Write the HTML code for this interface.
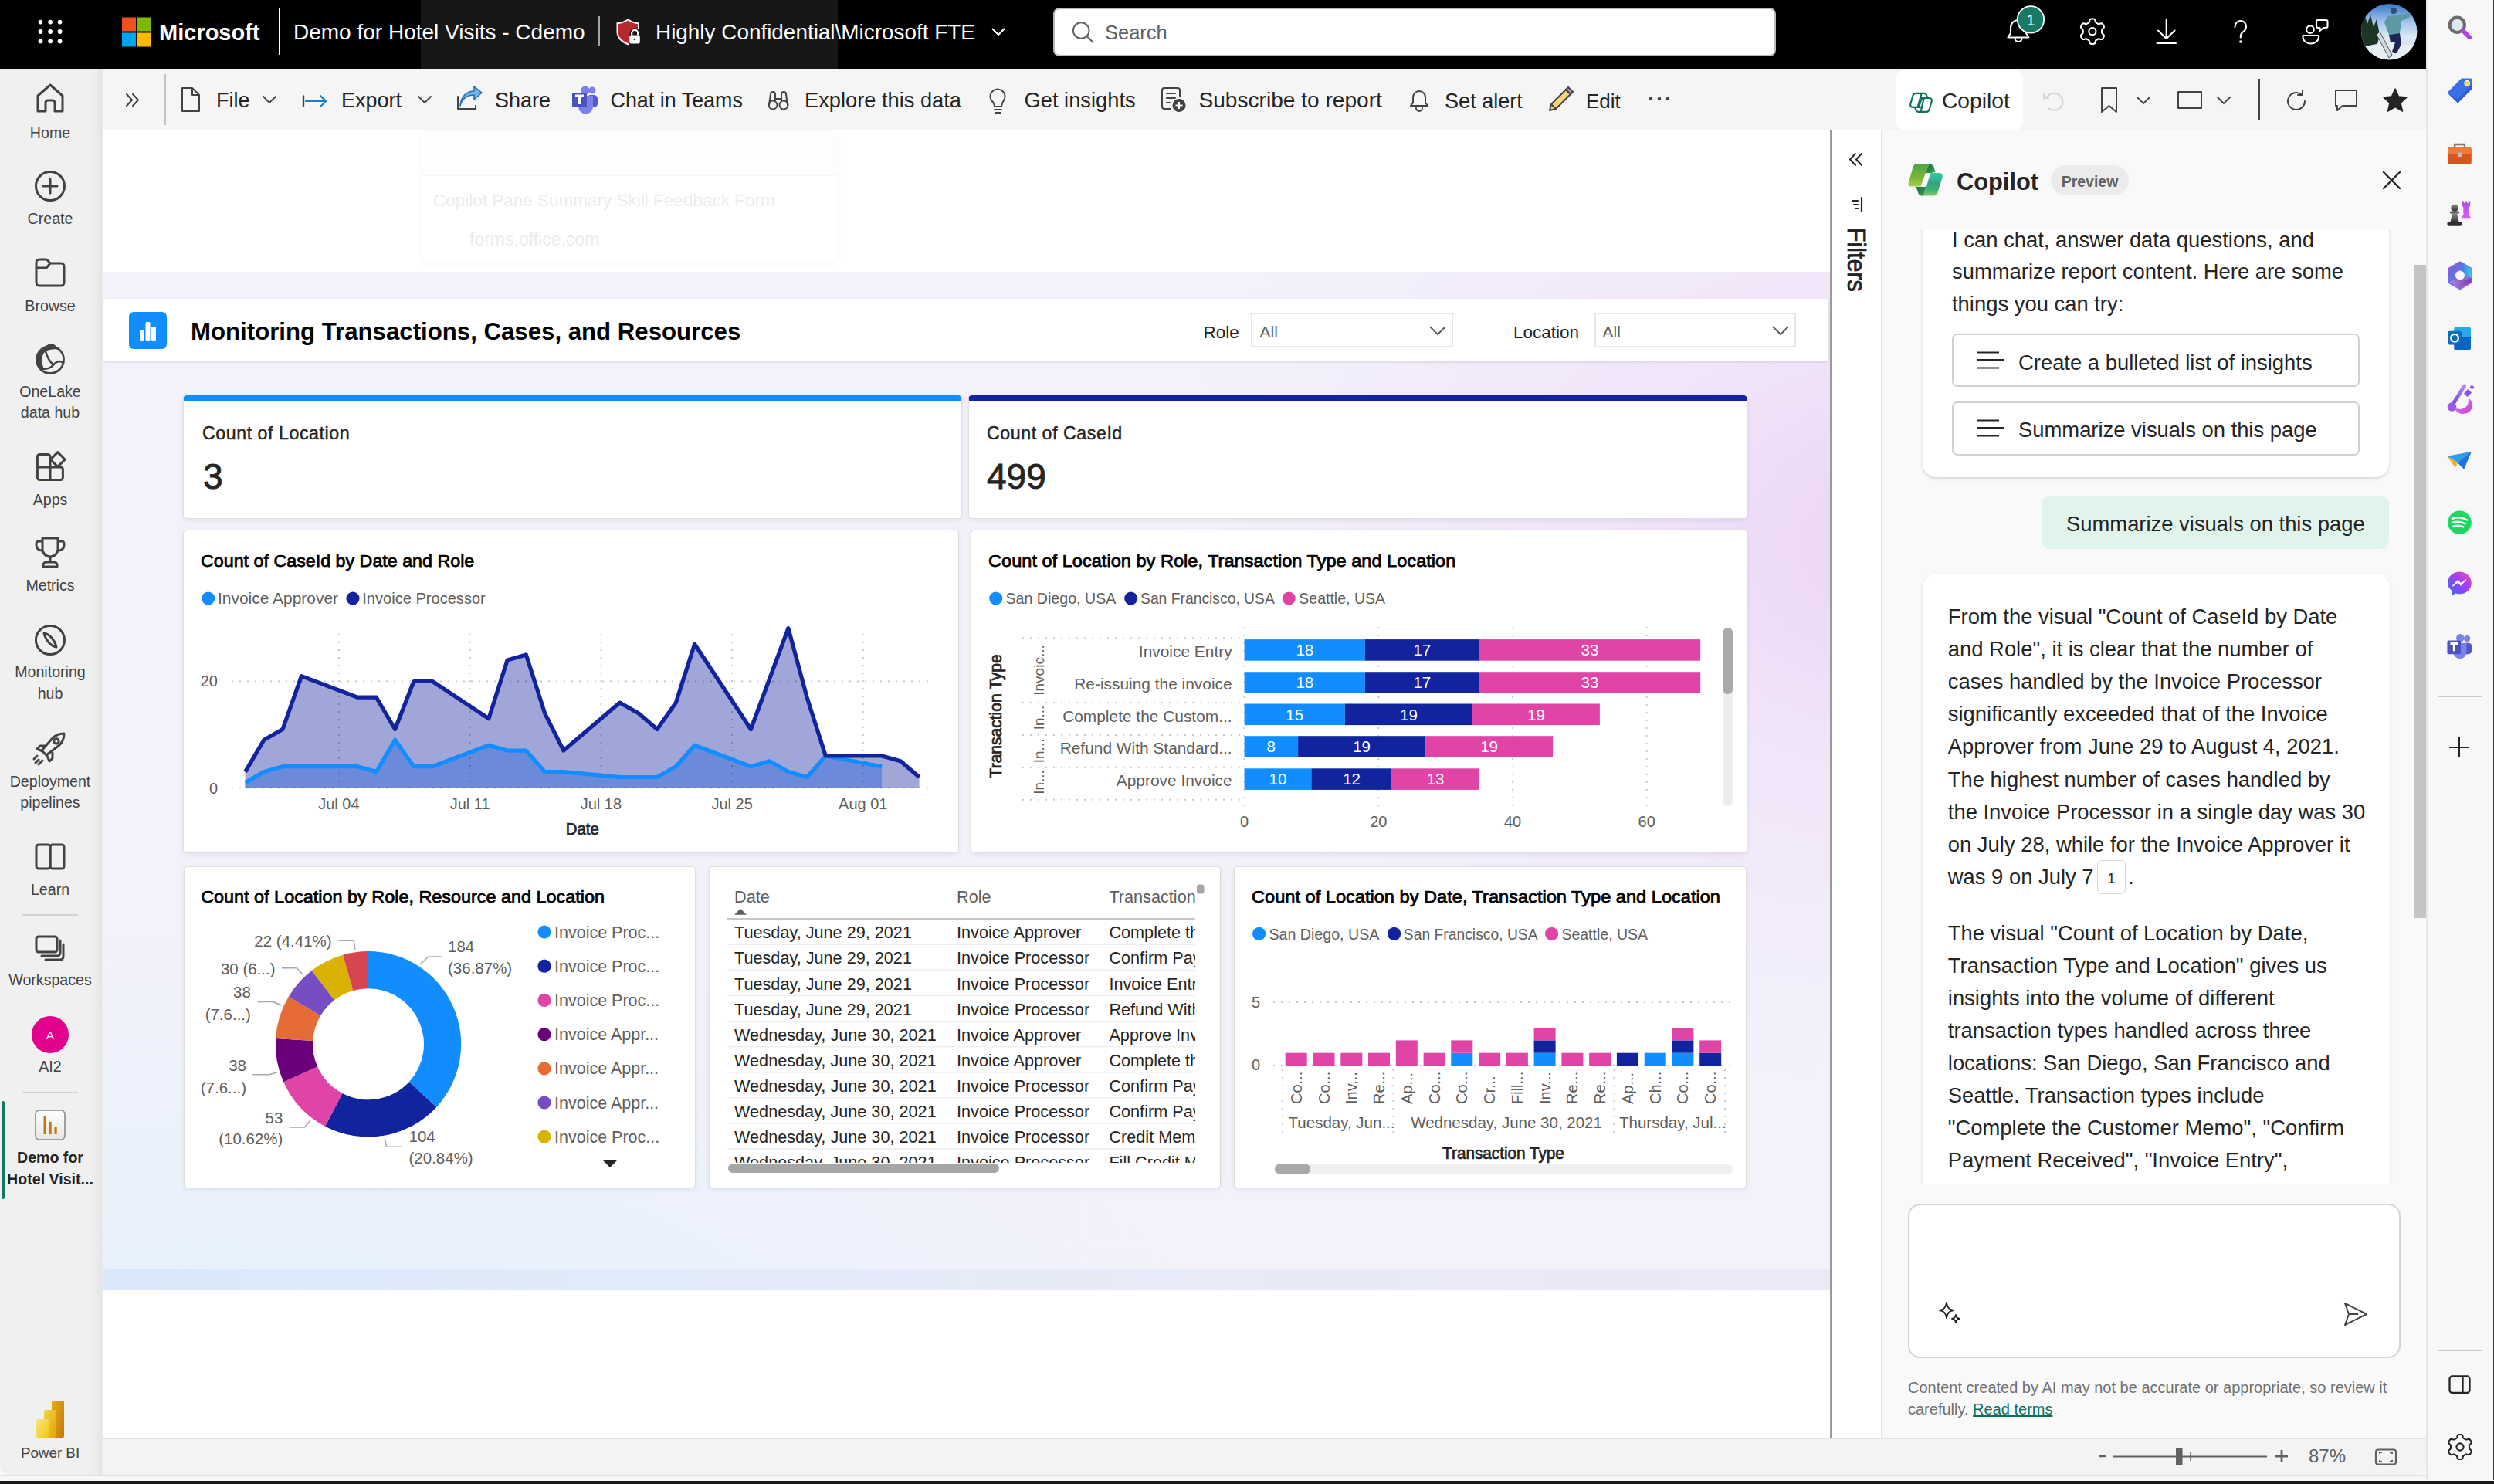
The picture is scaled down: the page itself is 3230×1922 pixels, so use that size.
<!DOCTYPE html>
<html><head><meta charset="utf-8"><title>Power BI - Demo for Hotel Visits</title>
<style>
html,body{margin:0;padding:0;width:3230px;height:1922px;overflow:hidden;background:#f7f7f7;font-family:"Liberation Sans", sans-serif;}
.t{position:absolute;line-height:1;white-space:nowrap;}
.r{position:absolute;box-sizing:border-box;}
svg{position:absolute;overflow:visible;}
</style></head><body>
<div class="r" style="left:0.0px;top:0.0px;width:3142.0px;height:89.0px;background:#000;"></div><div class="r" style="left:132.0px;top:89.0px;width:3010.0px;height:80.0px;background:#f5f5f5;"></div><div class="r" style="left:0.0px;top:89.0px;width:132.0px;height:1821.0px;background:#f0f0f0;border-bottom-left-radius:12px;"></div><div class="r" style="left:118.0px;top:89.0px;width:15.0px;height:1821.0px;background:linear-gradient(90deg,rgba(0,0,0,0),rgba(0,0,0,0.05));border-bottom-right-radius:0;"></div><div class="r" style="left:134.0px;top:169.0px;width:2236.0px;height:1693.0px;background:#fff;"></div><div class="r" style="left:134.0px;top:1862.0px;width:3008.0px;height:48.0px;background:#f3f3f3;border-top:2px solid #e3e3e3;border-bottom-right-radius:14px;"></div><div class="r" style="left:0.0px;top:1910.0px;width:3230.0px;height:7.5px;background:#f7f7f7;border-top:1px solid #e0e0e0;"></div><div class="r" style="left:0.0px;top:1917.5px;width:3230.0px;height:4.5px;background:#1b1b1b;"></div><div class="r" style="left:3142.0px;top:0.0px;width:88.0px;height:1917.0px;background:#f7f7f7;border-left:2px solid #e6e6e6;"></div><div class="r" style="left:3228.5px;top:0.0px;width:1.5px;height:1917.0px;background:#3a3a3a;"></div><svg style="left:0;top:0" width="100" height="89"><circle cx="52.5" cy="28.6" r="2.9" fill="#fff"/><circle cx="52.5" cy="41" r="2.9" fill="#fff"/><circle cx="52.5" cy="53.4" r="2.9" fill="#fff"/><circle cx="65.1" cy="28.6" r="2.9" fill="#fff"/><circle cx="65.1" cy="41" r="2.9" fill="#fff"/><circle cx="65.1" cy="53.4" r="2.9" fill="#fff"/><circle cx="77.6" cy="28.6" r="2.9" fill="#fff"/><circle cx="77.6" cy="41" r="2.9" fill="#fff"/><circle cx="77.6" cy="53.4" r="2.9" fill="#fff"/></svg><svg style="left:158px;top:22px" width="40" height="40"><rect x="0" y="0.5" width="18" height="18" fill="#f25022"/><rect x="20" y="0.5" width="18" height="18" fill="#7fba00"/><rect x="0" y="20.5" width="18" height="18" fill="#00a4ef"/><rect x="20" y="20.5" width="18" height="18" fill="#ffb900"/></svg><div class="t " style="left:206.0px;top:28.0px;font-size:29px;color:#fff;font-weight:700;">Microsoft</div><div class="r" style="left:361.0px;top:11.0px;width:2.0px;height:60.0px;background:#fff;"></div><div class="t " style="left:380.0px;top:28.3px;font-size:28px;color:#fff;">Demo for Hotel Visits - Cdemo</div><div class="r" style="left:775.0px;top:21.0px;width:2.0px;height:39.0px;background:#9a9a9a;"></div><svg style="left:796px;top:22px" width="40" height="40"><path d="M17.2 3.5 C12.5 6.5 8 8 3.5 8.3 V19 C3.5 27 9 32 17.2 35.3 C25 32 31 27 31 19 V8.3 C26.5 8 22 6.5 17.2 3.5Z" fill="#b0141a" stroke="#fff" stroke-width="2"/><path d="M22.2 23.5 V20.8 a4 4 0 0 1 8 0 V23.5" fill="none" stroke="#000" stroke-width="5"/><rect x="18" y="22.3" width="16" height="13.5" rx="2.5" fill="#000"/><rect x="23.4" y="18.5" width="5.6" height="5" fill="#000"/><path d="M22.2 23.5 V20.8 a4 4 0 0 1 8 0 V23.5" fill="none" stroke="#fff" stroke-width="2.2"/><rect x="19.2" y="23.5" width="13.6" height="11" rx="2" fill="#fff"/><circle cx="26" cy="29" r="1.3" fill="#000"/></svg><div class="t " style="left:849.0px;top:28.4px;font-size:27.9px;color:#fff;">Highly Confidential\Microsoft FTE</div><svg style="left:1283px;top:34px" width="22" height="16"><path d="M2 3 L10 11 L18 3" fill="none" stroke="#fff" stroke-width="2.2"/></svg><div class="r" style="left:1363.5px;top:9.5px;width:936.0px;height:63.0px;background:#fff;border:2px solid #b9b9b9;border-radius:8px;"></div><svg style="left:1385px;top:24px" width="40" height="40"><circle cx="15.2" cy="15.5" r="10.3" fill="none" stroke="#616161" stroke-width="2"/><path d="M22.6 23 L31 31.3" stroke="#616161" stroke-width="2.2" stroke-linecap="butt"/></svg><div class="t " style="left:1431.0px;top:30.4px;font-size:25.5px;color:#616161;">Search</div><div class="r" style="left:545.0px;top:0.0px;width:540.0px;height:89.0px;background:rgba(255,255,255,0.09);"></div><svg style="left:2580px;top:0" width="560" height="89"><path d="M20.5 48.5 H47.5 L44 43 V36 C44 30 39.5 26 34 26 C28.5 26 24 30 24 36 V43 Z M29.5 49.5 a4.5 4.5 0 0 0 9 0" fill="none" stroke="#fff" stroke-width="2.1" stroke-linecap="round" stroke-linejoin="round"/><circle cx="50" cy="25.4" r="17.2" fill="#177a66" stroke="#fff" stroke-width="1.8"/><path d="M129.90 24.40 L130.33 24.41 L130.75 24.43 L131.18 24.48 L131.60 24.55 L132.01 24.67 L132.41 24.84 L132.79 25.12 L133.12 25.55 L133.39 26.17 L133.59 26.94 L133.75 27.70 L133.92 28.33 L134.12 28.77 L134.36 29.08 L134.62 29.31 L134.89 29.50 L135.17 29.66 L135.44 29.82 L135.72 29.98 L136.00 30.13 L136.28 30.30 L136.55 30.46 L136.83 30.62 L137.11 30.78 L137.40 30.92 L137.73 31.03 L138.12 31.08 L138.60 31.03 L139.23 30.87 L139.98 30.62 L140.74 30.41 L141.41 30.33 L141.95 30.41 L142.38 30.60 L142.73 30.86 L143.03 31.16 L143.31 31.48 L143.56 31.83 L143.80 32.18 L144.02 32.55 L144.22 32.92 L144.41 33.31 L144.58 33.70 L144.73 34.10 L144.84 34.51 L144.89 34.95 L144.84 35.41 L144.63 35.91 L144.23 36.46 L143.66 37.01 L143.08 37.54 L142.62 38.00 L142.34 38.39 L142.19 38.75 L142.12 39.09 L142.10 39.42 L142.09 39.74 L142.10 40.06 L142.10 40.38 L142.10 40.70 L142.10 41.02 L142.10 41.34 L142.09 41.66 L142.10 41.98 L142.12 42.31 L142.19 42.65 L142.34 43.01 L142.62 43.40 L143.08 43.86 L143.66 44.39 L144.23 44.94 L144.63 45.49 L144.84 45.99 L144.89 46.45 L144.84 46.89 L144.73 47.30 L144.58 47.70 L144.41 48.09 L144.22 48.48 L144.02 48.85 L143.80 49.22 L143.56 49.57 L143.31 49.92 L143.03 50.24 L142.73 50.54 L142.38 50.80 L141.95 50.99 L141.41 51.07 L140.74 50.99 L139.98 50.78 L139.23 50.53 L138.60 50.37 L138.12 50.32 L137.73 50.37 L137.40 50.48 L137.11 50.62 L136.83 50.78 L136.55 50.94 L136.28 51.10 L136.00 51.27 L135.72 51.42 L135.44 51.58 L135.17 51.74 L134.89 51.90 L134.62 52.09 L134.36 52.32 L134.12 52.63 L133.92 53.07 L133.75 53.70 L133.59 54.46 L133.39 55.23 L133.12 55.85 L132.79 56.28 L132.41 56.56 L132.01 56.73 L131.60 56.85 L131.18 56.92 L130.75 56.97 L130.33 56.99 L129.90 57.00 L129.47 56.99 L129.05 56.97 L128.62 56.92 L128.20 56.85 L127.79 56.73 L127.39 56.56 L127.01 56.28 L126.68 55.85 L126.41 55.23 L126.21 54.46 L126.05 53.70 L125.88 53.07 L125.68 52.63 L125.44 52.32 L125.18 52.09 L124.91 51.90 L124.63 51.74 L124.36 51.58 L124.08 51.42 L123.80 51.27 L123.52 51.10 L123.25 50.94 L122.97 50.78 L122.69 50.62 L122.40 50.48 L122.07 50.37 L121.68 50.32 L121.20 50.37 L120.57 50.53 L119.82 50.78 L119.06 50.99 L118.39 51.07 L117.85 50.99 L117.42 50.80 L117.07 50.54 L116.77 50.24 L116.49 49.92 L116.24 49.57 L116.00 49.22 L115.78 48.85 L115.58 48.48 L115.39 48.09 L115.22 47.70 L115.07 47.30 L114.96 46.89 L114.91 46.45 L114.96 45.99 L115.17 45.49 L115.57 44.94 L116.14 44.39 L116.72 43.86 L117.18 43.40 L117.46 43.01 L117.61 42.65 L117.68 42.31 L117.70 41.98 L117.71 41.66 L117.70 41.34 L117.70 41.02 L117.70 40.70 L117.70 40.38 L117.70 40.06 L117.71 39.74 L117.70 39.42 L117.68 39.09 L117.61 38.75 L117.46 38.39 L117.18 38.00 L116.72 37.54 L116.14 37.01 L115.57 36.46 L115.17 35.91 L114.96 35.41 L114.91 34.95 L114.96 34.51 L115.07 34.10 L115.22 33.70 L115.39 33.31 L115.58 32.92 L115.78 32.55 L116.00 32.18 L116.24 31.83 L116.49 31.48 L116.77 31.16 L117.07 30.86 L117.42 30.60 L117.85 30.41 L118.39 30.33 L119.06 30.41 L119.82 30.62 L120.57 30.87 L121.20 31.03 L121.68 31.08 L122.07 31.03 L122.40 30.92 L122.69 30.78 L122.97 30.62 L123.25 30.46 L123.52 30.30 L123.80 30.13 L124.08 29.98 L124.36 29.82 L124.63 29.66 L124.91 29.50 L125.18 29.31 L125.44 29.08 L125.68 28.77 L125.88 28.33 L126.05 27.70 L126.21 26.94 L126.41 26.17 L126.68 25.55 L127.01 25.12 L127.39 24.84 L127.79 24.67 L128.20 24.55 L128.62 24.48 L129.05 24.43 L129.47 24.41 L129.90 24.40Z" fill="none" stroke="#fff" stroke-width="2.1" stroke-linecap="round" stroke-linejoin="round"/><circle cx="129.9" cy="40.7" r="4.6" fill="none" stroke="#fff" stroke-width="2.1" stroke-linecap="round" stroke-linejoin="round"/><path d="M225.7 25.5 V50 M215 39.5 L225.7 50 L236.5 39.5 M213.5 56 H238" fill="none" stroke="#fff" stroke-width="2.1" stroke-linecap="round" stroke-linejoin="round"/><path d="M314.5 35 C314.5 30 318 27 321.8 27 C325.8 27 329 30 329 34.5 C329 38 327 40 324.8 41.5 C322.6 43 321.8 44.5 321.8 47 V48.5" fill="none" stroke="#fff" stroke-width="2.1" stroke-linecap="round" stroke-linejoin="round"/><circle cx="321.8" cy="54" r="1.7" fill="#fff"/><circle cx="412" cy="38.2" r="4.8" fill="none" stroke="#fff" stroke-width="2.1" stroke-linecap="round" stroke-linejoin="round"/><path d="M402.5 46 H423 V48 a10.25 8.5 0 0 1 -20.5 0 Z" fill="none" stroke="#fff" stroke-width="2.1" stroke-linecap="round" stroke-linejoin="round"/><path d="M422 26 H432.5 a2 2 0 0 1 2 2 V34 a2 2 0 0 1 -2 2 H429 L424.5 40 V36 H422 a2 2 0 0 1 -2 -2 V28 a2 2 0 0 1 2 -2 Z" fill="none" stroke="#fff" stroke-width="2.1" stroke-linecap="round" stroke-linejoin="round"/></svg><div class="t " style="left:2630.0px;transform:translateX(-50%);top:16.4px;font-size:20px;color:#fff;">1</div><svg style="left:3057.8px;top:4.8px" width="72.4" height="72.4"><defs><linearGradient id="av" x1="0" y1="0" x2="0" y2="1"><stop offset="0" stop-color="#3a78c8"/><stop offset="0.35" stop-color="#a9c9ee"/><stop offset="0.6" stop-color="#dfe9f5"/><stop offset="1" stop-color="#c9d7e6"/></linearGradient><clipPath id="avc"><circle cx="36.2" cy="36.2" r="36.2"/></clipPath></defs><circle cx="36.2" cy="36.2" r="36.2" fill="url(#av)"/><g clip-path="url(#avc)"><path d="M0 24 L5 16 L8 26 L12 14 L16 30 L20 20 L24 40 L20 56 L0 58Z" fill="#1c3526"/><path d="M0 56 L30 50 L72 54 V72 H0Z" fill="#e8eef6"/><circle cx="42" cy="9" r="4" fill="#2b4f7a"/><path d="M34 16 L50 14 L62 12 L64 16 L52 22 L50 38 L36 40 L30 24Z" fill="#5a9aa0"/><path d="M36 40 L50 38 L52 52 L46 64 L40 62 L44 50 L38 50Z" fill="#1d2456"/><path d="M24 36 L40 66 L36 70 L20 40Z" fill="#cfd8e2" stroke="#555" stroke-width="1"/></g></svg><svg style="left:160px;top:118px" width="26" height="24"><path d="M4 4 L11 11.5 L4 19 M12 4 L19 11.5 L12 19" fill="none" stroke="#424242" stroke-width="2" stroke-linecap="round" stroke-linejoin="round"/></svg><div class="r" style="left:213.0px;top:95.5px;width:2.0px;height:66.5px;background:#c2c2c2;"></div><svg style="left:233px;top:112px" width="30" height="36"><path d="M3 2 H16 L25 11 V32 H3 Z M16 2 V11 H25" fill="none" stroke="#424242" stroke-width="2" stroke-linecap="round" stroke-linejoin="round"/></svg><div class="t " style="left:280.0px;top:116.6px;font-size:27px;color:#242424;">File</div><svg style="left:339px;top:122px" width="20" height="14"><path d="M2 3 L10 11 L18 3" fill="none" stroke="#424242" stroke-width="1.8" stroke-linecap="round"/></svg><svg style="left:391px;top:121px" width="36" height="20"><path d="M2 3 V17 M5 10 H31 M24 3 L31 10 L24 17" fill="none" stroke="#1a7ec7" stroke-width="2.2" stroke-linecap="round"/><path d="M2 3 V17" stroke="#424242" stroke-width="2.2"/></svg><div class="t " style="left:442.0px;top:116.6px;font-size:27px;color:#242424;">Export</div><svg style="left:540px;top:122px" width="20" height="14"><path d="M2 3 L10 11 L18 3" fill="none" stroke="#424242" stroke-width="1.8" stroke-linecap="round"/></svg><svg style="left:590px;top:111px" width="38" height="34"><path d="M3 14 V30 H26 V26" fill="none" stroke="#424242" stroke-width="2" stroke-linecap="round" stroke-linejoin="round"/><path d="M6 26 C8 16 16 12 24 12 V18 L34 9 L24 1 V7 C14 7 7 14 6 26Z" fill="#6cb4ea" stroke="#2a6fb5" stroke-width="1.6" stroke-linejoin="round"/></svg><div class="t " style="left:641.0px;top:116.6px;font-size:27px;color:#242424;">Share</div><svg style="left:740px;top:111px" width="38" height="38"><circle cx="27" cy="6" r="4.5" fill="#7b83eb"/><rect x="20" y="12" width="14" height="16" rx="5" fill="#5059c9"/><circle cx="18" cy="6" r="5.5" fill="#7b83eb"/><path d="M9 13 H28 V27 a9.5 9.5 0 0 1 -19 0Z" fill="#7b83eb"/><rect x="1" y="9" width="19" height="19" rx="2" fill="#4b53bc"/><path d="M5 13 H16 M10.5 13 V24" stroke="#fff" stroke-width="3"/></svg><div class="t " style="left:790.5px;top:116.7px;font-size:26.9px;color:#242424;">Chat in Teams</div><svg style="left:994px;top:116px" width="30" height="30"><circle cx="7" cy="20" r="5.5" fill="none" stroke="#424242" stroke-width="2" stroke-linecap="round" stroke-linejoin="round"/><circle cx="21" cy="20" r="5.5" fill="none" stroke="#424242" stroke-width="2" stroke-linecap="round" stroke-linejoin="round"/><path d="M2 20 L4 6 a3 3 0 0 1 6 0 V14 M26 20 L24 6 a3 3 0 0 0 -6 0 V14 M10 12 H18" fill="none" stroke="#424242" stroke-width="2" stroke-linecap="round" stroke-linejoin="round"/></svg><div class="t " style="left:1042.0px;top:116.4px;font-size:27.25px;color:#242424;">Explore this data</div><svg style="left:1278px;top:110px" width="30" height="40"><path d="M6 20 a9.5 9.5 0 1 1 16 0 C20 23 19 25 19 28 H10 C10 25 9 23 6 20Z M10 32 H19 M11 36 H18" fill="none" stroke="#424242" stroke-width="2" stroke-linecap="round" stroke-linejoin="round"/></svg><div class="t " style="left:1326.5px;top:116.4px;font-size:27.3px;color:#242424;">Get insights</div><svg style="left:1502px;top:112px" width="36" height="36"><path d="M26 13 V5 a3 3 0 0 0 -3 -3 H6 a3 3 0 0 0 -3 3 V26 a3 3 0 0 0 3 3 H14 M9 9 H20 M9 15 H20 M9 21 H13" fill="none" stroke="#424242" stroke-width="2" stroke-linecap="round" stroke-linejoin="round"/><circle cx="25" cy="24.5" r="8.5" fill="#424242"/><path d="M25 20 V29 M20.5 24.5 H29.5" stroke="#fff" stroke-width="2"/></svg><div class="t " style="left:1552.5px;top:115.7px;font-size:28.1px;color:#242424;">Subscribe to report</div><svg style="left:1824px;top:114px" width="30" height="32"><path d="M3 23 H25 L22 19 V12 a8 8 0 0 0 -16 0 V19 Z M10 26 a4 4 0 0 0 8 0" fill="none" stroke="#424242" stroke-width="2" stroke-linecap="round" stroke-linejoin="round"/></svg><div class="t " style="left:1871.0px;top:116.6px;font-size:27.1px;color:#242424;">Set alert</div><svg style="left:2003px;top:111px" width="36" height="36"><path d="M4 32 L6 24 L25 5 L31 11 L12 30 Z" fill="#f7d37b" stroke="#424242" stroke-width="2" stroke-linejoin="round"/><path d="M25 5 L28 2 L34 8 L31 11 Z" fill="#c98fe0" stroke="#424242" stroke-width="2" stroke-linejoin="round"/><path d="M6 24 L12 30" stroke="#424242" stroke-width="2"/></svg><div class="t " style="left:2054.0px;top:117.5px;font-size:26px;color:#242424;">Edit</div><svg style="left:2134px;top:122px" width="36" height="12"><circle cx="4" cy="6" r="2.3" fill="#424242"/><circle cx="15" cy="6" r="2.3" fill="#424242"/><circle cx="26" cy="6" r="2.3" fill="#424242"/></svg><div class="r" style="left:2456.0px;top:91.0px;width:164.0px;height:77.0px;background:#fff;border-radius:10px;"></div><svg style="left:2465px;top:108px" width="45" height="44"><g fill="none" stroke="#10715e" stroke-width="2.2" stroke-linejoin="round" stroke-linecap="round"><path d="M17 12.9 H27.3 C29 12.9 30 14.5 30.8 17.5 L31.3 19 M23.7 12.9 L18.6 30.8 H12 C9.8 30.8 8.8 29 9.3 26.7 L12.6 15.2 C13.2 13.8 15 12.9 17 12.9"/><path d="M22.5 19 H34.1 C36.3 19 37.3 21 36.8 23 L33.4 34.5 C32.8 36 31.7 36.8 30 36.8 H19.5 C18 36.8 17 36.2 16.5 35 L15 31"/><path d="M26.7 19 L22.6 36.8 M25.8 19.6 C24 20 23 21.5 22.5 23 L20.8 29 C20.3 30.3 19.6 30.8 18.6 30.8 H24.5"/></g></svg><div class="t " style="left:2515.0px;top:115.6px;font-size:28.2px;color:#242424;">Copilot</div><svg style="left:2644px;top:115px" width="32" height="32"><path d="M7 11 a11 11 0 1 1 2 14" fill="none" stroke="#d6d6d6" stroke-width="2.2"/><path d="M3 5 V12 H10" fill="none" stroke="#d6d6d6" stroke-width="2.2"/></svg><svg style="left:2718px;top:111px" width="30" height="38"><path d="M4 3 H23 V34 L13.5 26 L4 34 Z" fill="none" stroke="#424242" stroke-width="2" stroke-linecap="round" stroke-linejoin="round"/></svg><svg style="left:2766px;top:123px" width="20" height="14"><path d="M2 3 L10 11 L18 3" fill="none" stroke="#424242" stroke-width="1.8" stroke-linecap="round"/></svg><svg style="left:2818px;top:116px" width="38" height="28"><rect x="3" y="3" width="30" height="21" fill="none" stroke="#424242" stroke-width="2" stroke-linecap="round" stroke-linejoin="round"/></svg><svg style="left:2870px;top:123px" width="20" height="14"><path d="M2 3 L10 11 L18 3" fill="none" stroke="#424242" stroke-width="1.8" stroke-linecap="round"/></svg><div class="r" style="left:2924.5px;top:101.5px;width:2.0px;height:54.5px;background:#424242;"></div><svg style="left:2958px;top:114px" width="34" height="34"><path d="M27 17 a11 11 0 1 1 -4 -8.5" fill="none" stroke="#424242" stroke-width="2" stroke-linecap="round" stroke-linejoin="round"/><path d="M24 3 V9 H18" fill="none" stroke="#424242" stroke-width="2" stroke-linecap="round" stroke-linejoin="round"/></svg><svg style="left:3022px;top:114px" width="34" height="34"><path d="M3 3 H30 V23 H12 L5 29 V23 H3 Z" fill="none" stroke="#424242" stroke-width="2" stroke-linecap="round" stroke-linejoin="round"/></svg><svg style="left:3084px;top:112px" width="36" height="36"><path d="M18 3 L22.5 13 L33 14 L25 21.5 L27.5 32 L18 26.5 L8.5 32 L11 21.5 L3 14 L13.5 13 Z" fill="#242424" stroke="#242424" stroke-width="1.5" stroke-linejoin="round"/></svg><svg style="left:40px;top:100px" width="50" height="52"><path d="M9 24 L25 10 L41 24 V44 H31 V33 a3 3 0 0 0 -3 -3 H22 a3 3 0 0 0 -3 3 V44 H9 Z" fill="none" stroke="#424242" stroke-width="3" stroke-linecap="round" stroke-linejoin="round"/></svg><div class="t " style="left:65.0px;transform:translateX(-50%);top:162.8px;font-size:19.6px;color:#424242;">Home</div><svg style="left:40px;top:216px" width="50" height="50"><circle cx="25" cy="25" r="18.5" fill="none" stroke="#424242" stroke-width="3" stroke-linecap="round" stroke-linejoin="round"/><path d="M25 16 V34 M16 25 H34" fill="none" stroke="#424242" stroke-width="3" stroke-linecap="round" stroke-linejoin="round"/></svg><div class="t " style="left:65.0px;transform:translateX(-50%);top:274.4px;font-size:19.6px;color:#424242;">Create</div><svg style="left:40px;top:328px" width="50" height="50"><path d="M7 12 a4 4 0 0 1 4 -4 H19 a4 4 0 0 1 3 1.5 L25 13 H39 a4 4 0 0 1 4 4 V38 a4 4 0 0 1 -4 4 H11 a4 4 0 0 1 -4 -4 Z M7 19 H20 L25 13" fill="none" stroke="#424242" stroke-width="3" stroke-linecap="round" stroke-linejoin="round"/></svg><div class="t " style="left:65.0px;transform:translateX(-50%);top:387.1px;font-size:19.6px;color:#424242;">Browse</div><svg style="left:40px;top:440px" width="50" height="50"><g fill="none" stroke="#424242" stroke-width="2.6" stroke-linecap="round"><circle cx="25" cy="25.8" r="17.6"/><path d="M19.2 15.5 C21 22 24 28 29 32.5 C32 29.5 34 28 37 28 C39 28 40.5 28.8 42 29.8"/><path d="M13.5 37.2 C20 38.5 25.5 37 29 32.5"/></g><path d="M15 13 C19 8 23 5 26.2 5 C30 5 33 8 34.8 12.8 C30 11.8 24 12.5 19 15 C15 18 14 24 14.5 29 C15 33 16 35.5 17 37.5 L13 37.5 C9 34 7 29 7.3 24.5 C7.8 19 11 15 15 13Z" fill="#424242"/></svg><div class="t " style="left:65.0px;transform:translateX(-50%);top:498.0px;font-size:19.6px;color:#424242;">OneLake</div><div class="t " style="left:65.0px;transform:translateX(-50%);top:524.9px;font-size:19.6px;color:#424242;">data hub</div><svg style="left:40px;top:578px" width="50" height="50"><path d="M25 27 V13.4 a3 3 0 0 0 -3 -3 H11.4 a3 3 0 0 0 -3 3 V40.5 a3 3 0 0 0 3 3 H38.4 a3 3 0 0 0 3 -3 V30 a3 3 0 0 0 -3 -3 H8.4 M25 27 V43.5" fill="none" stroke="#424242" stroke-width="3" stroke-linecap="round" stroke-linejoin="round"/><path d="M34.7 7.6 L44.2 17.2 L34.7 26.4 L25.4 17.2 Z" fill="none" stroke="#424242" stroke-width="3" stroke-linecap="round" stroke-linejoin="round"/></svg><div class="t " style="left:65.0px;transform:translateX(-50%);top:638.4px;font-size:19.6px;color:#424242;">Apps</div><svg style="left:40px;top:690px" width="50" height="50"><path d="M15 7 H35 V21 a10 10 0 0 1 -20 0 Z M15 11 H10 a3 3 0 0 0 -3 3 V16 a7 7 0 0 0 8 7 M35 11 H40 a3 3 0 0 1 3 3 V16 a7 7 0 0 1 -8 7 M25 31 V38 M16 44 V42 a4 4 0 0 1 4 -4 H30 a4 4 0 0 1 4 4 V44 Z" fill="none" stroke="#424242" stroke-width="3" stroke-linecap="round" stroke-linejoin="round"/></svg><div class="t " style="left:65.0px;transform:translateX(-50%);top:749.4px;font-size:19.6px;color:#424242;">Metrics</div><svg style="left:40px;top:804px" width="50" height="50"><circle cx="25" cy="25" r="18.5" fill="none" stroke="#424242" stroke-width="3" stroke-linecap="round" stroke-linejoin="round"/><path d="M17 16 C24 17 31 25 33 34 C26 33 19 25 17 16Z" fill="none" stroke="#424242" stroke-width="3" stroke-linecap="round" stroke-linejoin="round"/></svg><div class="t " style="left:65.0px;transform:translateX(-50%);top:861.4px;font-size:19.6px;color:#424242;">Monitoring</div><div class="t " style="left:65.0px;transform:translateX(-50%);top:889.4px;font-size:19.6px;color:#424242;">hub</div><svg style="left:40px;top:944px" width="50" height="50"><path d="M20 34 L14 28 L28 12 C32 8 38 6 43 6 C43 11 41 17 37 21 Z" fill="none" stroke="#424242" stroke-width="3" stroke-linecap="round" stroke-linejoin="round"/><circle cx="33" cy="16" r="3.2" fill="none" stroke="#424242" stroke-width="3" stroke-linecap="round" stroke-linejoin="round"/><path d="M19 22 H12 L8 26 L15 29 M28 31 V38 L24 42 L21 35" fill="none" stroke="#424242" stroke-width="3" stroke-linecap="round" stroke-linejoin="round"/><path d="M6 44 L10 40 M10 46 L15 41 M4 39 L8 35" fill="none" stroke="#424242" stroke-width="3" stroke-linecap="round" stroke-linejoin="round"/></svg><div class="t " style="left:65.0px;transform:translateX(-50%);top:1003.0px;font-size:19.6px;color:#424242;">Deployment</div><div class="t " style="left:65.0px;transform:translateX(-50%);top:1029.9px;font-size:19.6px;color:#424242;">pipelines</div><svg style="left:40px;top:1087px" width="50" height="44"><rect x="7" y="7" width="18" height="31" rx="3" fill="none" stroke="#424242" stroke-width="3" stroke-linecap="round" stroke-linejoin="round"/><rect x="25" y="7" width="18" height="31" rx="3" fill="none" stroke="#424242" stroke-width="3" stroke-linecap="round" stroke-linejoin="round"/></svg><div class="t " style="left:65.0px;transform:translateX(-50%);top:1143.4px;font-size:19.6px;color:#424242;">Learn</div><div class="r" style="left:29.0px;top:1183.5px;width:72.0px;height:2.0px;background:#d2d2d2;"></div><svg style="left:40px;top:1206px" width="50" height="44"><rect x="7" y="7" width="27" height="20" rx="3" fill="none" stroke="#424242" stroke-width="3" stroke-linecap="round" stroke-linejoin="round"/><path d="M38 12 V28 a4 4 0 0 1 -4 4 H14 M42 17 V33 a4 4 0 0 1 -4 4 H19" fill="none" stroke="#424242" stroke-width="3" stroke-linecap="round" stroke-linejoin="round"/></svg><div class="t " style="left:65.0px;transform:translateX(-50%);top:1260.4px;font-size:19.6px;color:#424242;">Workspaces</div><svg style="left:41px;top:1316px" width="48" height="48"><circle cx="24" cy="24" r="24" fill="#e3008c"/></svg><div class="t " style="left:65.0px;transform:translateX(-50%);top:1333.3px;font-size:15px;color:#fff;">A</div><div class="t " style="left:65.0px;transform:translateX(-50%);top:1372.4px;font-size:19.6px;color:#424242;">AI2</div><div class="r" style="left:29.0px;top:1413.5px;width:72.0px;height:2.0px;background:#d2d2d2;"></div><div class="r" style="left:2.0px;top:1426.0px;width:4.0px;height:127.0px;background:#117865;border-radius:2px;"></div><svg style="left:44px;top:1436px" width="44" height="44"><defs><linearGradient id="dg" x1="0" y1="0" x2="0" y2="1"><stop offset="0" stop-color="#fff"/><stop offset="1" stop-color="#e6e6e6"/></linearGradient></defs><rect x="2" y="2" width="38" height="38" rx="5" fill="url(#dg)" stroke="#8a8a8a" stroke-width="1.6"/><rect x="12.5" y="9" width="3.2" height="24" fill="#c4780b"/><rect x="19.5" y="17" width="3.2" height="16" fill="#c4780b"/><rect x="26.5" y="24" width="3.2" height="9" fill="#c4780b"/></svg><div class="t " style="left:65.0px;transform:translateX(-50%);top:1490.4px;font-size:19.6px;color:#242424;font-weight:700;">Demo for</div><div class="t " style="left:65.0px;transform:translateX(-50%);top:1518.2px;font-size:19.6px;color:#242424;font-weight:700;">Hotel Visit...</div><svg style="left:46px;top:1813px" width="40" height="50"><defs><linearGradient id="pb1" x1="0" y1="0" x2="1" y2="1"><stop offset="0" stop-color="#f9e583"/><stop offset="1" stop-color="#f2c811"/></linearGradient><linearGradient id="pb2" x1="0" y1="0" x2="1" y2="1"><stop offset="0" stop-color="#f2d34b"/><stop offset="1" stop-color="#e3a400"/></linearGradient><linearGradient id="pb3" x1="0" y1="0" x2="1" y2="1"><stop offset="0" stop-color="#e6ad10"/><stop offset="1" stop-color="#c27a12"/></linearGradient></defs><rect x="21" y="1" width="16" height="48" rx="2" fill="url(#pb3)"/><rect x="11" y="13" width="16" height="36" rx="2" fill="url(#pb2)"/><rect x="1" y="25" width="16" height="24" rx="2" fill="url(#pb1)"/></svg><div class="t " style="left:65.0px;transform:translateX(-50%);top:1872.6px;font-size:18.8px;color:#424242;">Power BI</div><svg style="left:3166.5px;top:16.5px" width="37" height="37" viewBox="0 0 46 46"><circle cx="19" cy="19" r="12" fill="#dfe6ee" stroke="#6b6b6b" stroke-width="5"/><path d="M28 28 L39 39" stroke="#b43ee8" stroke-width="7" stroke-linecap="round"/></svg><svg style="left:3166.5px;top:98.5px" width="37" height="37" viewBox="0 0 46 46"><path d="M26 3 H40 a3 3 0 0 1 3 3 V20 L20 43 L3 26 Z" fill="#3b6fe8"/><path d="M3 26 L20 43 L43 20 V14 L20 37 Z" fill="#2a4fc4" opacity="0.6"/><circle cx="35" cy="11" r="4" fill="#f7d54a" stroke="#fff" stroke-width="1.5"/></svg><svg style="left:3166.5px;top:182.5px" width="37" height="37" viewBox="0 0 46 46"><path d="M15 10 V5 H31 V10" fill="none" stroke="#7a7a7a" stroke-width="3"/><rect x="4" y="10" width="38" height="27" rx="3" fill="#d9541e"/><rect x="4" y="10" width="38" height="10" rx="3" fill="#ef7a3a"/><rect x="19.5" y="18" width="7" height="7" fill="#bdbdbd"/></svg><svg style="left:3166.5px;top:258.5px" width="37" height="37" viewBox="0 0 46 46"><defs><linearGradient id="rk" x1="0" y1="0" x2="0" y2="1"><stop offset="0" stop-color="#b048f0"/><stop offset="1" stop-color="#d860f0"/></linearGradient><linearGradient id="pw" x1="0" y1="0" x2="0" y2="1"><stop offset="0" stop-color="#8a8a8a"/><stop offset="1" stop-color="#2e2e2e"/></linearGradient></defs><path d="M27 2 H30 V5 H32 V2 H35 V5 H37 V2 H40 V9 L38 12 V24 L41 29 H26 L29 24 V12 L27 9 Z" fill="url(#rk)"/><circle cx="15" cy="13" r="6" fill="url(#pw)"/><rect x="7" y="18" width="16" height="4" rx="2" fill="#666"/><path d="M11 22 H19 L22 36 H8 Z" fill="url(#pw)"/><rect x="3" y="35" width="24" height="7" rx="3" fill="#2e2e2e"/></svg><svg style="left:3166px;top:336px" width="40" height="42"><defs><linearGradient id="m3" x1="0" y1="0" x2="1" y2="1"><stop offset="0" stop-color="#8c5ad8"/><stop offset="0.45" stop-color="#5a78e6"/><stop offset="1" stop-color="#b462d6"/></linearGradient><linearGradient id="m3b" x1="0" y1="0" x2="1" y2="0"><stop offset="0" stop-color="#3a6ee0"/><stop offset="1" stop-color="#40c8f0"/></linearGradient><linearGradient id="m3c" x1="0" y1="0" x2="1" y2="0"><stop offset="0" stop-color="#c882e8"/><stop offset="1" stop-color="#6a3aa8"/></linearGradient></defs><path d="M20 5 L33.5 12.8 V28.8 L20 36.6 L6.5 28.8 V12.8 Z" fill="url(#m3)" stroke="url(#m3)" stroke-width="5" stroke-linejoin="round"/><path d="M20 4 L34.5 12.3 V24 L25.5 19 Z" fill="url(#m3b)"/><path d="M6 29 L20 37.5 L34.5 29 V24 L25 27 L20 24 Z" fill="url(#m3c)" opacity="0.85"/><circle cx="20" cy="20.5" r="6" fill="#f7f7f7"/></svg><svg style="left:3166.5px;top:419.5px" width="37" height="37" viewBox="0 0 46 46"><rect x="14" y="5" width="27" height="24" rx="2" fill="#28a8ea"/><path d="M14 20 L41 20 V39 a2 2 0 0 1 -2 2 H16 a2 2 0 0 1 -2 -2Z" fill="#0a64c4"/><rect x="4" y="11" width="22" height="22" rx="3" fill="#0f6cbd"/><circle cx="15" cy="22" r="6" fill="none" stroke="#fff" stroke-width="3"/></svg><svg style="left:3166px;top:496px" width="40" height="42"><defs><linearGradient id="ds" x1="0" y1="0" x2="1" y2="1"><stop offset="0" stop-color="#e27af0"/><stop offset="1" stop-color="#c43ed8"/></linearGradient><linearGradient id="dh" x1="0" y1="0" x2="0" y2="1"><stop offset="0" stop-color="#b286f4"/><stop offset="1" stop-color="#7a4ee0"/></linearGradient></defs><path d="M13 33 C17 43 33 42 36 31 C37 26 35 22 31 20 C32 26 29 33 21 34 Z" fill="url(#ds)"/><path d="M25.5 4 L12.5 25" stroke="url(#dh)" stroke-width="4.8" stroke-linecap="round"/><circle cx="9.5" cy="31" r="5.8" fill="#9a5ae8"/><path d="M25 13.5 L30.5 8 L35 12.5 L29.5 18 Z" fill="#8a50e8"/><path d="M32.5 5.5 L35.5 2.5 L38.5 5.5 L35.5 8.5 Z" fill="#8a50e8"/></svg><svg style="left:3166.5px;top:576.5px" width="37" height="37" viewBox="0 0 46 46"><path d="M3 17 L42 10 L30 38 L20 28 Z" fill="#2d9cf0"/><path d="M3 17 L20 28 L16 36 Z" fill="#f0b429"/><path d="M20 28 L42 10 L30 38Z" fill="#1f74d8"/></svg><svg style="left:3166.5px;top:658.5px" width="37" height="37" viewBox="0 0 46 46"><circle cx="23" cy="22" r="19" fill="#1ed760"/><path d="M11 16 C19 13 28 14 35 18 M12 22 C19 20 26 21 32 24 M13 28 C19 26 24 27 29 29" fill="none" stroke="#fff" stroke-width="3" stroke-linecap="round"/></svg><svg style="left:3166.5px;top:737.5px" width="37" height="37" viewBox="0 0 46 46"><defs><linearGradient id="ms" x1="0" y1="1" x2="1" y2="0"><stop offset="0" stop-color="#3a6cf5"/><stop offset="0.6" stop-color="#a93cf0"/><stop offset="1" stop-color="#f45c8a"/></linearGradient></defs><path d="M23 3 C12 3 4 11 4 21 C4 27 7 31 11 34 V41 L17 38 C19 39 21 39 23 39 C34 39 42 31 42 21 C42 11 34 3 23 3Z" fill="url(#ms)"/><path d="M12 26 L20 17 L25 22 L33 16 L25 25 L20 20 Z" fill="#fff" stroke="#fff" stroke-width="1.5" stroke-linejoin="round"/></svg><svg style="left:3166.5px;top:818.5px" width="37" height="37" viewBox="0 0 46 46"><circle cx="35" cy="10" r="5" fill="#7b83eb"/><rect x="28" y="17" width="15" height="18" rx="6" fill="#5059c9"/><circle cx="24" cy="9" r="6.5" fill="#7b83eb"/><path d="M13 17 H34 V32 a10.5 10.5 0 0 1 -21 0Z" fill="#7b83eb"/><rect x="3" y="13" width="22" height="22" rx="2.5" fill="#4b53bc"/><path d="M8 18 H20 M14 18 V30" stroke="#fff" stroke-width="3.5"/></svg><div class="r" style="left:3158.0px;top:900.5px;width:56.0px;height:2.0px;background:#c9c9c9;"></div><svg style="left:3168px;top:951px" width="34" height="34"><path d="M17 4 V30 M4 17 H30" stroke="#242424" stroke-width="2"/></svg><div class="r" style="left:3158.0px;top:1748.0px;width:56.0px;height:2.0px;background:#c9c9c9;"></div><svg style="left:3166px;top:1774px" width="40" height="40"><rect x="6.5" y="8.5" width="26" height="21.5" rx="3.5" fill="none" stroke="#242424" stroke-width="2.3"/><path d="M23.5 8.5 V30" stroke="#242424" stroke-width="2.3"/></svg><svg style="left:3163px;top:1851px" width="46" height="46"><path d="M23.00 7.00 L23.42 7.01 L23.84 7.03 L24.25 7.08 L24.67 7.15 L25.07 7.26 L25.47 7.43 L25.84 7.70 L26.16 8.12 L26.43 8.73 L26.62 9.48 L26.78 10.23 L26.95 10.84 L27.15 11.27 L27.39 11.58 L27.64 11.80 L27.91 11.98 L28.18 12.14 L28.45 12.30 L28.73 12.45 L29.00 12.61 L29.27 12.77 L29.54 12.93 L29.81 13.09 L30.09 13.24 L30.38 13.38 L30.70 13.49 L31.08 13.54 L31.56 13.50 L32.17 13.34 L32.90 13.10 L33.65 12.90 L34.30 12.82 L34.83 12.89 L35.25 13.08 L35.59 13.34 L35.89 13.63 L36.16 13.95 L36.41 14.29 L36.64 14.64 L36.86 15.00 L37.06 15.37 L37.25 15.74 L37.41 16.12 L37.56 16.52 L37.67 16.92 L37.72 17.35 L37.67 17.81 L37.47 18.30 L37.07 18.83 L36.52 19.38 L35.95 19.89 L35.51 20.34 L35.23 20.73 L35.09 21.09 L35.02 21.42 L35.00 21.74 L34.99 22.06 L35.00 22.37 L35.00 22.69 L35.00 23.00 L35.00 23.31 L35.00 23.63 L34.99 23.94 L35.00 24.26 L35.02 24.58 L35.09 24.91 L35.23 25.27 L35.51 25.66 L35.95 26.11 L36.52 26.62 L37.07 27.17 L37.47 27.70 L37.67 28.19 L37.72 28.65 L37.67 29.08 L37.56 29.48 L37.41 29.88 L37.25 30.26 L37.06 30.63 L36.86 31.00 L36.64 31.36 L36.41 31.71 L36.16 32.05 L35.89 32.37 L35.59 32.66 L35.25 32.92 L34.83 33.11 L34.30 33.18 L33.65 33.10 L32.90 32.90 L32.17 32.66 L31.56 32.50 L31.08 32.46 L30.70 32.51 L30.38 32.62 L30.09 32.76 L29.81 32.91 L29.54 33.07 L29.27 33.23 L29.00 33.39 L28.73 33.55 L28.45 33.70 L28.18 33.86 L27.91 34.02 L27.64 34.20 L27.39 34.42 L27.15 34.73 L26.95 35.16 L26.78 35.77 L26.62 36.52 L26.43 37.27 L26.16 37.88 L25.84 38.30 L25.47 38.57 L25.07 38.74 L24.67 38.85 L24.25 38.92 L23.84 38.97 L23.42 38.99 L23.00 39.00 L22.58 38.99 L22.16 38.97 L21.75 38.92 L21.33 38.85 L20.93 38.74 L20.53 38.57 L20.16 38.30 L19.84 37.88 L19.57 37.27 L19.38 36.52 L19.22 35.77 L19.05 35.16 L18.85 34.73 L18.61 34.42 L18.36 34.20 L18.09 34.02 L17.82 33.86 L17.55 33.70 L17.27 33.55 L17.00 33.39 L16.73 33.23 L16.46 33.07 L16.19 32.91 L15.91 32.76 L15.62 32.62 L15.30 32.51 L14.92 32.46 L14.44 32.50 L13.83 32.66 L13.10 32.90 L12.35 33.10 L11.70 33.18 L11.17 33.11 L10.75 32.92 L10.41 32.66 L10.11 32.37 L9.84 32.05 L9.59 31.71 L9.36 31.36 L9.14 31.00 L8.94 30.63 L8.75 30.26 L8.59 29.88 L8.44 29.48 L8.33 29.08 L8.28 28.65 L8.33 28.19 L8.53 27.70 L8.93 27.17 L9.48 26.62 L10.05 26.11 L10.49 25.66 L10.77 25.27 L10.91 24.91 L10.98 24.58 L11.00 24.26 L11.01 23.94 L11.00 23.63 L11.00 23.31 L11.00 23.00 L11.00 22.69 L11.00 22.37 L11.01 22.06 L11.00 21.74 L10.98 21.42 L10.91 21.09 L10.77 20.73 L10.49 20.34 L10.05 19.89 L9.48 19.38 L8.93 18.83 L8.53 18.30 L8.33 17.81 L8.28 17.35 L8.33 16.92 L8.44 16.52 L8.59 16.12 L8.75 15.74 L8.94 15.37 L9.14 15.00 L9.36 14.64 L9.59 14.29 L9.84 13.95 L10.11 13.63 L10.41 13.34 L10.75 13.08 L11.17 12.89 L11.70 12.82 L12.35 12.90 L13.10 13.10 L13.83 13.34 L14.44 13.50 L14.92 13.54 L15.30 13.49 L15.62 13.38 L15.91 13.24 L16.19 13.09 L16.46 12.93 L16.73 12.77 L17.00 12.61 L17.27 12.45 L17.55 12.30 L17.82 12.14 L18.09 11.98 L18.36 11.80 L18.61 11.58 L18.85 11.27 L19.05 10.84 L19.22 10.23 L19.38 9.48 L19.57 8.73 L19.84 8.12 L20.16 7.70 L20.53 7.43 L20.93 7.26 L21.33 7.15 L21.75 7.08 L22.16 7.03 L22.58 7.01 L23.00 7.00Z" fill="none" stroke="#242424" stroke-width="2.1" stroke-linejoin="round"/><circle cx="23" cy="23" r="4.6" fill="none" stroke="#242424" stroke-width="2.1"/></svg><div class="r" style="left:134.0px;top:352.0px;width:2236.0px;height:1292.0px;background:radial-gradient(ellipse 1000px 700px at 2370px 352px, rgba(236,210,246,1), rgba(239,218,248,0.55) 42%, rgba(240,225,248,0) 100%), radial-gradient(ellipse 1400px 800px at 134px 1644px, rgba(225,242,252,1), rgba(226,241,252,0.75) 40%, rgba(224,239,252,0) 100%), #f3f2fb;"></div><div class="r" style="left:134.0px;top:1644.0px;width:2236.0px;height:27.0px;background:linear-gradient(90deg,#d9e9f9,#e6ebf8 50%,#ece8f7);"></div><div class="r" style="left:545.0px;top:169.0px;width:540.0px;height:171.6px;background:linear-gradient(#fdfdfd 0,#fdfdfd 58px,#fff 58px);border-radius:0 0 16px 16px;box-shadow:0 3px 10px rgba(0,0,0,0.03);"></div><div class="r" style="left:545.0px;top:227.0px;width:540.0px;height:1.0px;background:#f6f6f6;"></div><div class="t " style="left:561.0px;top:249.4px;font-size:22.5px;color:#ececec;">Copilot Pane Summary Skill Feedback Form</div><div class="t " style="left:608.0px;top:299.0px;font-size:23px;color:#ececec;">forms.office.com</div><div class="r" style="left:134.0px;top:387.0px;width:2234.0px;height:81.0px;background:#fff;border-radius:4px;box-shadow:0 1px 3px rgba(0,0,0,0.12);"></div><svg style="left:167px;top:404px" width="49" height="49"><rect x="0" y="0" width="49" height="48" rx="6" fill="#118dff"/><rect x="14" y="23" width="6" height="14" rx="1.5" fill="#fff"/><rect x="21.5" y="13" width="6" height="24" rx="1.5" fill="#fff"/><rect x="29" y="19" width="6" height="18" rx="1.5" fill="#fff"/></svg><div class="t " style="left:247.0px;top:414.4px;font-size:31.2px;color:#000;font-weight:700;">Monitoring Transactions, Cases, and Resources</div><div class="t " style="left:1558.5px;top:419.6px;font-size:22.5px;color:#252423;">Role</div><div class="r" style="left:1620.0px;top:405.0px;width:262.0px;height:45.0px;background:#fff;border:2px solid #e6e6e6;"></div><div class="t " style="left:1631.5px;top:419.4px;font-size:21px;color:#605e5c;">All</div><svg style="left:1850px;top:420px" width="26" height="18"><path d="M2 3 L12 13 L22 3" fill="none" stroke="#605e5c" stroke-width="2"/></svg><div class="t " style="left:1960.0px;top:419.6px;font-size:22.5px;color:#252423;">Location</div><div class="r" style="left:2065.0px;top:405.0px;width:261.0px;height:45.0px;background:#fff;border:2px solid #e6e6e6;"></div><div class="t " style="left:2075.5px;top:419.4px;font-size:21px;color:#605e5c;">All</div><svg style="left:2294px;top:420px" width="26" height="18"><path d="M2 3 L12 13 L22 3" fill="none" stroke="#605e5c" stroke-width="2"/></svg><div class="r" style="left:237.0px;top:512.0px;width:1009.0px;height:159.5px;background:#fff;border:1.5px solid #dedede;border-radius:5px;box-shadow:0 2px 7px rgba(0,0,0,0.07);border-top:7px solid #118dff;"></div><div class="t " style="left:262.0px;top:549.7px;font-size:23.2px;color:#252423;-webkit-text-stroke:0.45px #252423;letter-spacing:0.55px;">Count of Location</div><div class="t " style="left:263.0px;top:593.9px;font-size:46px;color:#252423;-webkit-text-stroke:0.9px #252423;">3</div><div class="r" style="left:1254.0px;top:512.0px;width:1009.0px;height:159.5px;background:#fff;border:1.5px solid #dedede;border-radius:5px;box-shadow:0 2px 7px rgba(0,0,0,0.07);border-top:7px solid #12239e;"></div><div class="t " style="left:1278.0px;top:549.7px;font-size:23.2px;color:#252423;-webkit-text-stroke:0.45px #252423;letter-spacing:0.55px;">Count of CaseId</div><div class="t " style="left:1278.0px;top:593.9px;font-size:46px;color:#252423;-webkit-text-stroke:0.9px #252423;">499</div><div class="r" style="left:237.0px;top:686.0px;width:1005.0px;height:419.0px;background:#fff;border:1.5px solid #dedede;border-radius:5px;box-shadow:0 2px 7px rgba(0,0,0,0.07);"></div><div class="r" style="left:1257.0px;top:686.0px;width:1006.0px;height:419.0px;background:#fff;border:1.5px solid #dedede;border-radius:5px;box-shadow:0 2px 7px rgba(0,0,0,0.07);"></div><div class="r" style="left:238.0px;top:1122.0px;width:663.0px;height:416.5px;background:#fff;border:1.5px solid #dedede;border-radius:5px;box-shadow:0 2px 7px rgba(0,0,0,0.07);"></div><div class="r" style="left:918.0px;top:1122.0px;width:663.0px;height:416.5px;background:#fff;border:1.5px solid #dedede;border-radius:5px;box-shadow:0 2px 7px rgba(0,0,0,0.07);"></div><div class="r" style="left:1598.0px;top:1122.0px;width:664.0px;height:416.5px;background:#fff;border:1.5px solid #dedede;border-radius:5px;box-shadow:0 2px 7px rgba(0,0,0,0.07);"></div><svg style="left:0;top:0" width="3230" height="1922" font-family="Liberation Sans, sans-serif"><text x="260.0" y="734.0" font-size="22.2" fill="#000" text-anchor="start" textLength="354.3" lengthAdjust="spacingAndGlyphs" stroke="#000" stroke-width="0.75">Count of CaseId by Date and Role</text><circle cx="269.7" cy="775" r="8.6" fill="#118dff"/><circle cx="457" cy="775" r="8.6" fill="#12239e"/><text x="282.0" y="781.5" font-size="20.9" fill="#605e5c" text-anchor="start" textLength="156" lengthAdjust="spacingAndGlyphs" >Invoice Approver</text><text x="469.3" y="781.5" font-size="20.9" fill="#605e5c" text-anchor="start" textLength="159.5" lengthAdjust="spacingAndGlyphs" >Invoice Processor</text><text x="282.0" y="889.4" font-size="20" fill="#605e5c" text-anchor="end" >20</text><text x="282.0" y="1027.6" font-size="20" fill="#605e5c" text-anchor="end" >0</text><text x="438.9" y="1048.0" font-size="20" fill="#605e5c" text-anchor="middle" >Jul 04</text><text x="608.6" y="1048.0" font-size="20" fill="#605e5c" text-anchor="middle" >Jul 11</text><text x="778.4" y="1048.0" font-size="20" fill="#605e5c" text-anchor="middle" >Jul 18</text><text x="948.1" y="1048.0" font-size="20" fill="#605e5c" text-anchor="middle" >Jul 25</text><text x="1117.8" y="1048.0" font-size="20" fill="#605e5c" text-anchor="middle" >Aug 01</text><text x="754.3" y="1081.0" font-size="21.5" fill="#252423" text-anchor="middle" textLength="43" lengthAdjust="spacingAndGlyphs" stroke="#252423" stroke-width="0.7">Date</text><polygon points="317.6,1020.3 317.6,999.6 341.9,958.3 366.1,944.5 390.4,875.6 463.1,903.2 487.4,903.2 511.6,944.5 535.9,882.5 560.1,882.5 632.9,930.7 657.1,854.9 681.4,848.0 705.6,923.8 729.9,972.1 802.6,910.1 826.9,923.8 851.1,944.5 875.4,910.1 899.6,834.3 972.4,944.5 1020.9,813.6 1045.1,903.2 1069.3,979.0 1142.1,979.0 1166.3,985.8 1190.6,1006.5 1190.6,1020.3" fill="#a1a6d9"/><polygon points="317.6,1020.3 317.6,1013.4 341.9,999.6 366.1,992.7 463.1,992.7 487.4,999.6 511.6,958.3 535.9,992.7 560.1,992.7 632.9,965.2 657.1,972.1 681.4,972.1 705.6,999.6 729.9,999.6 802.6,1006.5 826.9,1006.5 851.1,1006.5 875.4,992.7 899.6,965.2 972.4,992.7 996.6,985.8 1020.9,999.6 1045.1,1006.5 1069.3,979.0 1142.1,992.7 1142.1,1020.3" fill="#6b8ad9"/><g stroke="#000" stroke-opacity="0.22" stroke-width="2" stroke-dasharray="2 8"><line x1="300" y1="882.5" x2="1203" y2="882.5"/><line x1="300" y1="1020.3" x2="1203" y2="1020.3"/><line x1="438.9" y1="821" x2="438.9" y2="1020"/><line x1="608.6" y1="821" x2="608.6" y2="1020"/><line x1="778.4" y1="821" x2="778.4" y2="1020"/><line x1="948.1" y1="821" x2="948.1" y2="1020"/><line x1="1117.8" y1="821" x2="1117.8" y2="1020"/></g><polyline points="317.6,1013.4 341.9,999.6 366.1,992.7 463.1,992.7 487.4,999.6 511.6,958.3 535.9,992.7 560.1,992.7 632.9,965.2 657.1,972.1 681.4,972.1 705.6,999.6 729.9,999.6 802.6,1006.5 826.9,1006.5 851.1,1006.5 875.4,992.7 899.6,965.2 972.4,992.7 996.6,985.8 1020.9,999.6 1045.1,1006.5 1069.3,979.0 1142.1,992.7" fill="none" stroke="#118dff" stroke-width="5.2" stroke-linejoin="round"/><polyline points="317.6,999.6 341.9,958.3 366.1,944.5 390.4,875.6 463.1,903.2 487.4,903.2 511.6,944.5 535.9,882.5 560.1,882.5 632.9,930.7 657.1,854.9 681.4,848.0 705.6,923.8 729.9,972.1 802.6,910.1 826.9,923.8 851.1,944.5 875.4,910.1 899.6,834.3 972.4,944.5 1020.9,813.6 1045.1,903.2 1069.3,979.0 1142.1,979.0 1166.3,985.8 1190.6,1006.5" fill="none" stroke="#12239e" stroke-width="5.2" stroke-linejoin="round"/><text x="1280.0" y="734.0" font-size="22.2" fill="#000" text-anchor="start" textLength="605.3" lengthAdjust="spacingAndGlyphs" stroke="#000" stroke-width="0.75">Count of Location by Role, Transaction Type and Location</text><circle cx="1289.7" cy="775" r="8.6" fill="#118dff"/><circle cx="1464.7" cy="775" r="8.6" fill="#12239e"/><circle cx="1669.2" cy="775" r="8.6" fill="#e044a7"/><text x="1302.4" y="781.5" font-size="20.9" fill="#605e5c" text-anchor="start" textLength="143" lengthAdjust="spacingAndGlyphs" >San Diego, USA</text><text x="1477.0" y="781.5" font-size="20.9" fill="#605e5c" text-anchor="start" textLength="173.8" lengthAdjust="spacingAndGlyphs" >San Francisco, USA</text><text x="1682.3" y="781.5" font-size="20.9" fill="#605e5c" text-anchor="start" textLength="111.7" lengthAdjust="spacingAndGlyphs" >Seattle, USA</text><g stroke="#c9c9c9" stroke-width="2" stroke-dasharray="2 8"><line x1="1611.6" y1="812" x2="1611.6" y2="1044"/><line x1="1785.3" y1="812" x2="1785.3" y2="1044"/><line x1="1959.0" y1="812" x2="1959.0" y2="1044"/><line x1="2132.7" y1="812" x2="2132.7" y2="1044"/><line x1="1324" y1="826.4" x2="1611" y2="826.4"/><line x1="1324" y1="909.9" x2="1611" y2="909.9"/><line x1="1324" y1="952" x2="1611" y2="952"/><line x1="1324" y1="994" x2="1611" y2="994"/><line x1="1324" y1="1035.8" x2="1611" y2="1035.8"/></g><rect x="1611.6" y="828.1" width="156.3" height="27.6" fill="#118dff"/><text x="1689.8" y="849.1" font-size="20.5" fill="#fff" text-anchor="middle" >18</text><rect x="1767.9" y="828.1" width="147.6" height="27.6" fill="#12239e"/><text x="1841.8" y="849.1" font-size="20.5" fill="#fff" text-anchor="middle" >17</text><rect x="1915.6" y="828.1" width="286.6" height="27.6" fill="#e044a7"/><text x="2058.9" y="849.1" font-size="20.5" fill="#fff" text-anchor="middle" >33</text><text x="1595.6" y="851.1" font-size="20.9" fill="#605e5c" text-anchor="end" >Invoice Entry</text><rect x="1611.6" y="870.2" width="156.3" height="27.6" fill="#118dff"/><text x="1689.8" y="891.2" font-size="20.5" fill="#fff" text-anchor="middle" >18</text><rect x="1767.9" y="870.2" width="147.6" height="27.6" fill="#12239e"/><text x="1841.8" y="891.2" font-size="20.5" fill="#fff" text-anchor="middle" >17</text><rect x="1915.6" y="870.2" width="286.6" height="27.6" fill="#e044a7"/><text x="2058.9" y="891.2" font-size="20.5" fill="#fff" text-anchor="middle" >33</text><text x="1595.6" y="893.2" font-size="20.9" fill="#605e5c" text-anchor="end" >Re-issuing the invoice</text><rect x="1611.6" y="911.5" width="130.3" height="27.6" fill="#118dff"/><text x="1676.7" y="932.5" font-size="20.5" fill="#fff" text-anchor="middle" >15</text><rect x="1741.9" y="911.5" width="165.0" height="27.6" fill="#12239e"/><text x="1824.4" y="932.5" font-size="20.5" fill="#fff" text-anchor="middle" >19</text><rect x="1906.9" y="911.5" width="165.0" height="27.6" fill="#e044a7"/><text x="1989.4" y="932.5" font-size="20.5" fill="#fff" text-anchor="middle" >19</text><text x="1595.6" y="934.5" font-size="20.9" fill="#605e5c" text-anchor="end" >Complete the Custom...</text><rect x="1611.6" y="953.2" width="69.5" height="27.6" fill="#118dff"/><text x="1646.3" y="974.2" font-size="20.5" fill="#fff" text-anchor="middle" >8</text><rect x="1681.1" y="953.2" width="165.0" height="27.6" fill="#12239e"/><text x="1763.6" y="974.2" font-size="20.5" fill="#fff" text-anchor="middle" >19</text><rect x="1846.1" y="953.2" width="165.0" height="27.6" fill="#e044a7"/><text x="1928.6" y="974.2" font-size="20.5" fill="#fff" text-anchor="middle" >19</text><text x="1595.6" y="976.2" font-size="20.9" fill="#605e5c" text-anchor="end" >Refund With Standard...</text><rect x="1611.6" y="995.3" width="86.9" height="27.6" fill="#118dff"/><text x="1655.0" y="1016.3" font-size="20.5" fill="#fff" text-anchor="middle" >10</text><rect x="1698.4" y="995.3" width="104.2" height="27.6" fill="#12239e"/><text x="1750.6" y="1016.3" font-size="20.5" fill="#fff" text-anchor="middle" >12</text><rect x="1802.7" y="995.3" width="112.9" height="27.6" fill="#e044a7"/><text x="1859.1" y="1016.3" font-size="20.5" fill="#fff" text-anchor="middle" >13</text><text x="1595.6" y="1018.3" font-size="20.9" fill="#605e5c" text-anchor="end" >Approve Invoice</text><text x="1611.6" y="1070.6" font-size="20" fill="#605e5c" text-anchor="middle" >0</text><text x="1785.3" y="1070.6" font-size="20" fill="#605e5c" text-anchor="middle" >20</text><text x="1959.0" y="1070.6" font-size="20" fill="#605e5c" text-anchor="middle" >40</text><text x="2132.7" y="1070.6" font-size="20" fill="#605e5c" text-anchor="middle" >60</text><text x="1352.0" y="868.0" font-size="19" fill="#605e5c" text-anchor="middle" transform="rotate(-90 1352 868)">Invoic...</text><text x="1352.0" y="929.5" font-size="19" fill="#605e5c" text-anchor="middle" transform="rotate(-90 1352 929.5)">In...</text><text x="1352.0" y="972.4" font-size="19" fill="#605e5c" text-anchor="middle" transform="rotate(-90 1352 972.4)">In...</text><text x="1352.0" y="1013.0" font-size="19" fill="#605e5c" text-anchor="middle" transform="rotate(-90 1352 1013)">In...</text><text x="1297.0" y="927.4" font-size="21.5" fill="#252423" text-anchor="middle" textLength="160" lengthAdjust="spacingAndGlyphs" stroke="#252423" stroke-width="0.7" transform="rotate(-90 1297 927.4)">Transaction Type</text><rect x="2231.5" y="813" width="12.5" height="231" rx="6" fill="#ececec"/><rect x="2231.5" y="813" width="12.5" height="86" rx="6" fill="#a9a9a9"/><text x="260.2" y="1168.7" font-size="22.2" fill="#000" text-anchor="start" textLength="522.8" lengthAdjust="spacingAndGlyphs" stroke="#000" stroke-width="0.75">Count of Location by Role, Resource and Location</text><path d="M477.00 1232.10 A120.2 120.2 0 0 1 565.27 1433.88 L529.88 1401.17 A72 72 0 0 0 477.00 1280.30Z" fill="#118dff"/><path d="M565.27 1433.88 A120.2 120.2 0 0 1 420.99 1458.65 L443.45 1416.00 A72 72 0 0 0 529.88 1401.17Z" fill="#12239e"/><path d="M420.99 1458.65 A120.2 120.2 0 0 1 367.18 1401.17 L411.22 1381.57 A72 72 0 0 0 443.45 1416.00Z" fill="#e044a7"/><path d="M367.18 1401.17 A120.2 120.2 0 0 1 357.01 1345.12 L405.13 1348.00 A72 72 0 0 0 411.22 1381.57Z" fill="#6b007b"/><path d="M357.01 1345.12 A120.2 120.2 0 0 1 373.80 1290.68 L415.18 1315.39 A72 72 0 0 0 405.13 1348.00Z" fill="#e66c37"/><path d="M373.80 1290.68 A120.2 120.2 0 0 1 403.80 1256.96 L433.15 1295.19 A72 72 0 0 0 415.18 1315.39Z" fill="#744ec2"/><path d="M403.80 1256.96 A120.2 120.2 0 0 1 444.13 1236.68 L457.31 1283.04 A72 72 0 0 0 433.15 1295.19Z" fill="#d9b300"/><path d="M444.13 1236.68 A120.2 120.2 0 0 1 477.00 1232.10 L477.00 1280.30 A72 72 0 0 0 457.31 1283.04Z" fill="#d64550"/><g fill="none" stroke="#a8a8a8" stroke-width="1.6"><polyline points="544.4,1248.8 554.7,1239 571.6,1239"/><polyline points="498.4,1474.8 500.5,1485.2 520.6,1485.2"/><polyline points="402,1451 394.6,1460 374.7,1460"/><polyline points="359,1388.8 348.6,1391.7 327.3,1391.7"/><polyline points="365,1302 353,1297.4 333.2,1297.4"/><polyline points="393,1262.7 384.2,1253.8 365,1253.8"/><polyline points="459.8,1231 458.4,1218.2 438.5,1218.2"/></g><text x="580.0" y="1233.0" font-size="20.5" fill="#605e5c" text-anchor="start" >184</text><text x="580.0" y="1261.2" font-size="20.5" fill="#605e5c" text-anchor="start" >(36.87%)</text><text x="529.5" y="1479.2" font-size="20.5" fill="#605e5c" text-anchor="start" >104</text><text x="529.5" y="1507.4" font-size="20.5" fill="#605e5c" text-anchor="start" >(20.84%)</text><text x="366.4" y="1454.6" font-size="20.5" fill="#605e5c" text-anchor="end" >53</text><text x="366.4" y="1482.2" font-size="20.5" fill="#605e5c" text-anchor="end" >(10.62%)</text><text x="319.0" y="1387.3" font-size="20.5" fill="#605e5c" text-anchor="end" >38</text><text x="319.0" y="1415.5" font-size="20.5" fill="#605e5c" text-anchor="end" >(7.6...)</text><text x="324.9" y="1291.5" font-size="20.5" fill="#605e5c" text-anchor="end" >38</text><text x="324.9" y="1320.6" font-size="20.5" fill="#605e5c" text-anchor="end" >(7.6...)</text><text x="356.6" y="1261.8" font-size="20.5" fill="#605e5c" text-anchor="end" >30 (6...)</text><text x="429.6" y="1226.3" font-size="20.5" fill="#605e5c" text-anchor="end" >22 (4.41%)</text><circle cx="705" cy="1207.0" r="8.6" fill="#118dff"/><text x="718.0" y="1214.5" font-size="21.5" fill="#605e5c" text-anchor="start" >Invoice Proc...</text><circle cx="705" cy="1251.2" r="8.6" fill="#12239e"/><text x="718.0" y="1258.7" font-size="21.5" fill="#605e5c" text-anchor="start" >Invoice Proc...</text><circle cx="705" cy="1295.4" r="8.6" fill="#e044a7"/><text x="718.0" y="1302.9" font-size="21.5" fill="#605e5c" text-anchor="start" >Invoice Proc...</text><circle cx="705" cy="1339.6" r="8.6" fill="#6b007b"/><text x="718.0" y="1347.1" font-size="21.5" fill="#605e5c" text-anchor="start" >Invoice Appr...</text><circle cx="705" cy="1383.8" r="8.6" fill="#e66c37"/><text x="718.0" y="1391.3" font-size="21.5" fill="#605e5c" text-anchor="start" >Invoice Appr...</text><circle cx="705" cy="1428.0" r="8.6" fill="#744ec2"/><text x="718.0" y="1435.5" font-size="21.5" fill="#605e5c" text-anchor="start" >Invoice Appr...</text><circle cx="705" cy="1472.2" r="8.6" fill="#d9b300"/><text x="718.0" y="1479.7" font-size="21.5" fill="#605e5c" text-anchor="start" >Invoice Proc...</text><path d="M781 1503 H799 L790 1512Z" fill="#252423"/><defs><clipPath id="tclip"><rect x="930" y="1140" width="618" height="366"/></clipPath></defs><g clip-path="url(#tclip)"><text x="951.0" y="1169.3" font-size="21.66" fill="#605e5c" text-anchor="start" >Date</text><text x="1239.0" y="1169.3" font-size="21.66" fill="#605e5c" text-anchor="start" >Role</text><text x="1436.4" y="1169.3" font-size="21.66" fill="#605e5c" text-anchor="start" >Transaction</text><path d="M951 1184.7 L959 1176.7 L967 1184.7Z" fill="#605e5c"/><rect x="941.7" y="1189" width="606" height="2" fill="#c8c6c4"/><text x="951.0" y="1215.3" font-size="21.66" fill="#252423" text-anchor="start" >Tuesday, June 29, 2021</text><text x="1239.0" y="1215.3" font-size="21.66" fill="#252423" text-anchor="start" >Invoice Approver</text><text x="1436.4" y="1215.3" font-size="21.66" fill="#252423" text-anchor="start" >Complete the</text><rect x="941.7" y="1222.5" width="606" height="1.5" fill="#eeeeee"/><text x="951.0" y="1248.4" font-size="21.66" fill="#252423" text-anchor="start" >Tuesday, June 29, 2021</text><text x="1239.0" y="1248.4" font-size="21.66" fill="#252423" text-anchor="start" >Invoice Processor</text><text x="1436.4" y="1248.4" font-size="21.66" fill="#252423" text-anchor="start" >Confirm Pay</text><rect x="941.7" y="1255.6" width="606" height="1.5" fill="#eeeeee"/><text x="951.0" y="1281.5" font-size="21.66" fill="#252423" text-anchor="start" >Tuesday, June 29, 2021</text><text x="1239.0" y="1281.5" font-size="21.66" fill="#252423" text-anchor="start" >Invoice Processor</text><text x="1436.4" y="1281.5" font-size="21.66" fill="#252423" text-anchor="start" >Invoice Entry</text><rect x="941.7" y="1288.7" width="606" height="1.5" fill="#eeeeee"/><text x="951.0" y="1314.6" font-size="21.66" fill="#252423" text-anchor="start" >Tuesday, June 29, 2021</text><text x="1239.0" y="1314.6" font-size="21.66" fill="#252423" text-anchor="start" >Invoice Processor</text><text x="1436.4" y="1314.6" font-size="21.66" fill="#252423" text-anchor="start" >Refund With</text><rect x="941.7" y="1321.8" width="606" height="1.5" fill="#eeeeee"/><text x="951.0" y="1347.7" font-size="21.66" fill="#252423" text-anchor="start" >Wednesday, June 30, 2021</text><text x="1239.0" y="1347.7" font-size="21.66" fill="#252423" text-anchor="start" >Invoice Approver</text><text x="1436.4" y="1347.7" font-size="21.66" fill="#252423" text-anchor="start" >Approve Inv</text><rect x="941.7" y="1354.9" width="606" height="1.5" fill="#eeeeee"/><text x="951.0" y="1380.8" font-size="21.66" fill="#252423" text-anchor="start" >Wednesday, June 30, 2021</text><text x="1239.0" y="1380.8" font-size="21.66" fill="#252423" text-anchor="start" >Invoice Approver</text><text x="1436.4" y="1380.8" font-size="21.66" fill="#252423" text-anchor="start" >Complete the</text><rect x="941.7" y="1388.0" width="606" height="1.5" fill="#eeeeee"/><text x="951.0" y="1413.9" font-size="21.66" fill="#252423" text-anchor="start" >Wednesday, June 30, 2021</text><text x="1239.0" y="1413.9" font-size="21.66" fill="#252423" text-anchor="start" >Invoice Processor</text><text x="1436.4" y="1413.9" font-size="21.66" fill="#252423" text-anchor="start" >Confirm Pay</text><rect x="941.7" y="1421.1" width="606" height="1.5" fill="#eeeeee"/><text x="951.0" y="1447.0" font-size="21.66" fill="#252423" text-anchor="start" >Wednesday, June 30, 2021</text><text x="1239.0" y="1447.0" font-size="21.66" fill="#252423" text-anchor="start" >Invoice Processor</text><text x="1436.4" y="1447.0" font-size="21.66" fill="#252423" text-anchor="start" >Confirm Pay</text><rect x="941.7" y="1454.2" width="606" height="1.5" fill="#eeeeee"/><text x="951.0" y="1480.1" font-size="21.66" fill="#252423" text-anchor="start" >Wednesday, June 30, 2021</text><text x="1239.0" y="1480.1" font-size="21.66" fill="#252423" text-anchor="start" >Invoice Processor</text><text x="1436.4" y="1480.1" font-size="21.66" fill="#252423" text-anchor="start" >Credit Memo</text><rect x="941.7" y="1487.3" width="606" height="1.5" fill="#eeeeee"/><text x="951.0" y="1513.2" font-size="21.66" fill="#252423" text-anchor="start" >Wednesday, June 30, 2021</text><text x="1239.0" y="1513.2" font-size="21.66" fill="#252423" text-anchor="start" >Invoice Processor</text><text x="1436.4" y="1513.2" font-size="21.66" fill="#252423" text-anchor="start" >Fill Credit M</text><rect x="941.7" y="1520.4" width="606" height="1.5" fill="#eeeeee"/></g><rect x="943" y="1507" width="351" height="12" rx="6" fill="#a6a6a6"/><rect x="1550" y="1145.6" width="9.5" height="12" rx="3" fill="#a6a6a6"/><text x="1621.0" y="1168.7" font-size="22.2" fill="#000" text-anchor="start" textLength="607" lengthAdjust="spacingAndGlyphs" stroke="#000" stroke-width="0.75">Count of Location by Date, Transaction Type and Location</text><circle cx="1630.6" cy="1209.3" r="8.6" fill="#118dff"/><circle cx="1805.6" cy="1209.3" r="8.6" fill="#12239e"/><circle cx="2009.6" cy="1209.3" r="8.6" fill="#e044a7"/><text x="1643.4" y="1216.8" font-size="20.9" fill="#605e5c" text-anchor="start" textLength="143" lengthAdjust="spacingAndGlyphs" >San Diego, USA</text><text x="1817.8" y="1216.8" font-size="20.9" fill="#605e5c" text-anchor="start" textLength="173.8" lengthAdjust="spacingAndGlyphs" >San Francisco, USA</text><text x="2022.4" y="1216.8" font-size="20.9" fill="#605e5c" text-anchor="start" textLength="111.7" lengthAdjust="spacingAndGlyphs" >Seattle, USA</text><g stroke="#c9c9c9" stroke-width="2" stroke-dasharray="2 8"><line x1="1649" y1="1298" x2="2240" y2="1298"/><line x1="1649" y1="1380" x2="2240" y2="1380"/><line x1="1661" y1="1385" x2="1661" y2="1472"/><line x1="1804.4" y1="1385" x2="1804.4" y2="1472"/><line x1="2090.6" y1="1385" x2="2090.6" y2="1472"/><line x1="2234" y1="1385" x2="2234" y2="1472"/></g><text x="1632.0" y="1305.0" font-size="20" fill="#605e5c" text-anchor="end" >5</text><text x="1632.0" y="1386.4" font-size="20" fill="#605e5c" text-anchor="end" >0</text><rect x="1664.7" y="1363.7" width="28" height="16.3" fill="#e044a7"/><text x="1685.7" y="1430.0" font-size="20" fill="#605e5c" text-anchor="start" transform="rotate(-90 1685.7 1430)">Co...</text><rect x="1700.5" y="1363.7" width="28" height="16.3" fill="#e044a7"/><text x="1721.5" y="1430.0" font-size="20" fill="#605e5c" text-anchor="start" transform="rotate(-90 1721.5 1430)">Co...</text><rect x="1736.3" y="1363.7" width="28" height="16.3" fill="#e044a7"/><text x="1757.3" y="1430.0" font-size="20" fill="#605e5c" text-anchor="start" transform="rotate(-90 1757.3 1430)">Inv...</text><rect x="1772.0" y="1363.7" width="28" height="16.3" fill="#e044a7"/><text x="1793.0" y="1430.0" font-size="20" fill="#605e5c" text-anchor="start" transform="rotate(-90 1793.0 1430)">Re...</text><rect x="1807.8" y="1347.4" width="28" height="32.6" fill="#e044a7"/><text x="1828.8" y="1430.0" font-size="20" fill="#605e5c" text-anchor="start" transform="rotate(-90 1828.8 1430)">Ap...</text><rect x="1843.6" y="1363.7" width="28" height="16.3" fill="#e044a7"/><text x="1864.6" y="1430.0" font-size="20" fill="#605e5c" text-anchor="start" transform="rotate(-90 1864.6 1430)">Co...</text><rect x="1879.3" y="1363.7" width="28" height="16.3" fill="#118dff"/><rect x="1879.3" y="1347.4" width="28" height="16.3" fill="#e044a7"/><text x="1900.3" y="1430.0" font-size="20" fill="#605e5c" text-anchor="start" transform="rotate(-90 1900.3 1430)">Co...</text><rect x="1915.1" y="1363.7" width="28" height="16.3" fill="#e044a7"/><text x="1936.1" y="1430.0" font-size="20" fill="#605e5c" text-anchor="start" transform="rotate(-90 1936.1 1430)">Cr...</text><rect x="1950.9" y="1363.7" width="28" height="16.3" fill="#e044a7"/><text x="1971.9" y="1430.0" font-size="20" fill="#605e5c" text-anchor="start" transform="rotate(-90 1971.9 1430)">Fill...</text><rect x="1986.6" y="1363.7" width="28" height="16.3" fill="#118dff"/><rect x="1986.6" y="1347.4" width="28" height="16.3" fill="#12239e"/><rect x="1986.6" y="1331.1" width="28" height="16.3" fill="#e044a7"/><text x="2007.6" y="1430.0" font-size="20" fill="#605e5c" text-anchor="start" transform="rotate(-90 2007.6 1430)">Inv...</text><rect x="2022.4" y="1363.7" width="28" height="16.3" fill="#e044a7"/><text x="2043.4" y="1430.0" font-size="20" fill="#605e5c" text-anchor="start" transform="rotate(-90 2043.4 1430)">Re...</text><rect x="2058.1" y="1363.7" width="28" height="16.3" fill="#e044a7"/><text x="2079.1" y="1430.0" font-size="20" fill="#605e5c" text-anchor="start" transform="rotate(-90 2079.1 1430)">Re...</text><rect x="2093.9" y="1363.7" width="28" height="16.3" fill="#12239e"/><text x="2114.9" y="1430.0" font-size="20" fill="#605e5c" text-anchor="start" transform="rotate(-90 2114.9 1430)">Ap...</text><rect x="2129.7" y="1363.7" width="28" height="16.3" fill="#118dff"/><text x="2150.7" y="1430.0" font-size="20" fill="#605e5c" text-anchor="start" transform="rotate(-90 2150.7 1430)">Ch...</text><rect x="2165.4" y="1363.7" width="28" height="16.3" fill="#118dff"/><rect x="2165.4" y="1347.4" width="28" height="16.3" fill="#12239e"/><rect x="2165.4" y="1331.1" width="28" height="16.3" fill="#e044a7"/><text x="2186.4" y="1430.0" font-size="20" fill="#605e5c" text-anchor="start" transform="rotate(-90 2186.4 1430)">Co...</text><rect x="2201.2" y="1363.7" width="28" height="16.3" fill="#12239e"/><rect x="2201.2" y="1347.4" width="28" height="16.3" fill="#e044a7"/><text x="2222.2" y="1430.0" font-size="20" fill="#605e5c" text-anchor="start" transform="rotate(-90 2222.2 1430)">Co...</text><text x="1668.6" y="1461.4" font-size="20.5" fill="#605e5c" text-anchor="start" >Tuesday, Jun...</text><text x="1827.2" y="1461.4" font-size="20.5" fill="#605e5c" text-anchor="start" >Wednesday, June 30, 2021</text><text x="2097.0" y="1461.4" font-size="20.5" fill="#605e5c" text-anchor="start" >Thursday, Jul...</text><text x="1947.0" y="1501.0" font-size="21.5" fill="#252423" text-anchor="middle" textLength="157.8" lengthAdjust="spacingAndGlyphs" stroke="#252423" stroke-width="0.7">Transaction Type</text><rect x="1651" y="1507.4" width="593" height="13.3" rx="6.6" fill="#efefef"/><rect x="1651" y="1507.4" width="46" height="13.3" rx="6.6" fill="#a9a9a9"/></svg><div class="r" style="left:2370.0px;top:169.0px;width:67.0px;height:1693.0px;background:#fff;border-left:2px solid #9a9a9a;border-right:1.5px solid #e2e2e2;"></div><svg style="left:2393px;top:196px" width="24" height="22"><path d="M10 3 L3 10.5 L10 18 M18 3 L11 10.5 L18 18" fill="none" stroke="#242424" stroke-width="2" stroke-linecap="round" stroke-linejoin="round"/></svg><svg style="left:2396px;top:252px" width="24" height="24"><path d="M3 8 H10 M5 13 H10 M7 18 H10 M15 4 V22" fill="none" stroke="#242424" stroke-width="2.2" stroke-linecap="round"/></svg><svg style="left:2380px;top:285px" width="50" height="110" font-family="Liberation Sans, sans-serif"><text x="0" y="0" font-size="32.5" fill="#242424" textLength="83" lengthAdjust="spacingAndGlyphs" stroke="#242424" stroke-width="0.8" transform="translate(12.6 9.8) rotate(90)">Filters</text></svg><div class="r" style="left:2437.0px;top:169.0px;width:705.0px;height:1693.0px;background:#f9f9f9;"></div><div class="r" style="left:2490.0px;top:280.0px;width:604.0px;height:338.0px;background:#fff;border-radius:0 0 18px 18px;box-shadow:0 2px 4px rgba(0,0,0,0.14);"></div><div class="r" style="left:2437.0px;top:169.0px;width:689.0px;height:127.5px;background:#f9f9f9;"></div><svg style="left:2471.4px;top:211.8px" width="46" height="43"><defs><linearGradient id="cpl" x1="0" y1="0" x2="0" y2="1"><stop offset="0" stop-color="#4aa444"/><stop offset="0.6" stop-color="#7cb43a"/><stop offset="1" stop-color="#a3d050"/></linearGradient><linearGradient id="cpd" x1="0" y1="0" x2="1" y2="1"><stop offset="0" stop-color="#146c45"/><stop offset="1" stop-color="#3f9a48"/></linearGradient><linearGradient id="cpt" x1="0" y1="0" x2="0" y2="1"><stop offset="0" stop-color="#2ecfa6"/><stop offset="0.45" stop-color="#36a284"/><stop offset="0.75" stop-color="#3db26e"/><stop offset="1" stop-color="#7cc86a"/></linearGradient></defs><path d="M27.2 0.2 C30 0.2 32 1 33.5 4 L35.5 11 L29.3 12 H22.8 Z" fill="url(#cpd)"/><path d="M8.3 30 L23.6 30 L20.2 41.4 H17.5 C15 41.4 14 40 13.3 38 L11.6 33 C11 31.2 10 30.3 8.3 30Z" fill="url(#cpd)"/><path d="M10.8 0.2 H27.2 L16.6 29.6 H4 C1.2 29.6 0 27.5 0.6 25 L6.5 4.5 C7.3 1.8 8.8 0.2 10.8 0.2Z" fill="url(#cpl)"/><path d="M29.3 12 H40.8 C43.8 12 45.4 14.5 44.6 17.5 L38.5 37.5 C37.7 40 35.8 41.4 33 41.4 H20.2 Z" fill="url(#cpt)"/></svg><div class="t " style="left:2534.0px;top:221.4px;font-size:30.8px;color:#242424;font-weight:700;">Copilot</div><div class="r" style="left:2656.0px;top:214.0px;width:101.0px;height:39.0px;background:#ebebeb;border-radius:20px;"></div><div class="t " style="left:2706.5px;transform:translateX(-50%);top:225.7px;font-size:19.5px;color:#616161;font-weight:700;">Preview</div><svg style="left:3083px;top:219px" width="30" height="30"><path d="M4 4 L25 25 M25 4 L4 25" stroke="#242424" stroke-width="2.4" stroke-linecap="round"/></svg><div class="t " style="left:2528.0px;top:296.8px;font-size:27.4px;color:#242424;">I can chat, answer data questions, and</div><div class="t " style="left:2528.0px;top:338.4px;font-size:27.4px;color:#242424;">summarize report content. Here are some</div><div class="t " style="left:2528.0px;top:380.0px;font-size:27.4px;color:#242424;">things you can try:</div><div class="r" style="left:2528.0px;top:431.6px;width:528.0px;height:69.8px;background:#fff;border:2px solid #d1d1d1;border-radius:7px;"></div><svg style="left:2558px;top:450.5px" width="40" height="32"><path d="M3 5.5 H31 M3 15 H37 M3 25.5 H31" stroke="#242424" stroke-width="2"/></svg><div class="t " style="left:2614.0px;top:455.5px;font-size:27.4px;color:#242424;">Create a bulleted list of insights</div><div class="r" style="left:2528.0px;top:519.5px;width:528.0px;height:70.5px;background:#fff;border:2px solid #d1d1d1;border-radius:7px;"></div><svg style="left:2558px;top:538.8px" width="40" height="32"><path d="M3 5.5 H31 M3 15 H37 M3 25.5 H31" stroke="#242424" stroke-width="2"/></svg><div class="t " style="left:2614.0px;top:543.4px;font-size:27.4px;color:#242424;">Summarize visuals on this page</div><div class="r" style="left:2644.0px;top:643.0px;width:450.0px;height:68.0px;background:#e0f4eb;border-radius:10px;"></div><div class="t " style="left:2676.0px;top:664.8px;font-size:27.4px;color:#242424;">Summarize visuals on this page</div><div class="r" style="left:2490.0px;top:743.4px;width:604.6px;height:836.6px;background:#fff;border-radius:18px;box-shadow:0 2px 4px rgba(0,0,0,0.14);"></div><div class="t " style="left:2522.8px;top:784.8px;font-size:27.4px;color:#242424;">From the visual "Count of CaseId by Date</div><div class="t " style="left:2522.8px;top:827.0px;font-size:27.4px;color:#242424;">and Role", it is clear that the number of</div><div class="t " style="left:2522.8px;top:869.1px;font-size:27.4px;color:#242424;">cases handled by the Invoice Processor</div><div class="t " style="left:2522.8px;top:911.3px;font-size:27.4px;color:#242424;">significantly exceeded that of the Invoice</div><div class="t " style="left:2522.8px;top:953.4px;font-size:27.4px;color:#242424;">Approver from June 29 to August 4, 2021.</div><div class="t " style="left:2522.8px;top:995.6px;font-size:27.4px;color:#242424;">The highest number of cases handled by</div><div class="t " style="left:2522.8px;top:1037.7px;font-size:27.4px;color:#242424;">the Invoice Processor in a single day was 30</div><div class="t " style="left:2522.8px;top:1079.9px;font-size:27.4px;color:#242424;">on July 28, while for the Invoice Approver it</div><div class="t " style="left:2522.8px;top:1122.0px;font-size:27.4px;color:#242424;">was 9 on July 7</div><div class="r" style="left:2715.5px;top:1114.0px;width:37.9px;height:43.7px;background:#fff;border:1.5px solid #d6d6d6;border-radius:6px;"></div><div class="t " style="left:2734.5px;transform:translateX(-50%);top:1129.3px;font-size:18.5px;color:#242424;">1</div><div class="t " style="left:2756.0px;top:1121.8px;font-size:27.4px;color:#242424;">.</div><div class="t " style="left:2522.8px;top:1194.8px;font-size:27.4px;color:#242424;">The visual "Count of Location by Date,</div><div class="t " style="left:2522.8px;top:1236.8px;font-size:27.4px;color:#242424;">Transaction Type and Location" gives us</div><div class="t " style="left:2522.8px;top:1278.8px;font-size:27.4px;color:#242424;">insights into the volume of different</div><div class="t " style="left:2522.8px;top:1320.8px;font-size:27.4px;color:#242424;">transaction types handled across three</div><div class="t " style="left:2522.8px;top:1362.8px;font-size:27.4px;color:#242424;">locations: San Diego, San Francisco and</div><div class="t " style="left:2522.8px;top:1404.8px;font-size:27.4px;color:#242424;">Seattle. Transaction types include</div><div class="t " style="left:2522.8px;top:1446.8px;font-size:27.4px;color:#242424;">"Complete the Customer Memo", "Confirm</div><div class="t " style="left:2522.8px;top:1488.8px;font-size:27.4px;color:#242424;">Payment Received", "Invoice Entry",</div><div class="r" style="left:2437.0px;top:1534.0px;width:689.0px;height:328.0px;background:#f9f9f9;"></div><div class="r" style="left:3126.0px;top:343.0px;width:16.0px;height:846.0px;background:#c4c4c4;"></div><div class="r" style="left:2471.0px;top:1559.0px;width:638.4px;height:200.0px;background:#fff;border:2px solid #d4d4d4;border-radius:16px;"></div><svg style="left:2508px;top:1684px" width="40" height="40"><path d="M13 3 C14 9 16 12 22 13 C16 14 14 17 13 23 C12 17 10 14 4 13 C10 12 12 9 13 3Z M25 19 C25.5 22 27 23.5 30 24 C27 24.5 25.5 26 25 29 C24.5 26 23 24.5 20 24 C23 23.5 24.5 22 25 19Z" fill="none" stroke="#242424" stroke-width="1.8" stroke-linejoin="round"/></svg><svg style="left:3034px;top:1685px" width="36" height="34"><path d="M3 3 L31 17 L3 31 L8 17 Z M8 17 H20" fill="none" stroke="#424242" stroke-width="2" stroke-linejoin="round"/></svg><div class="t " style="left:2471.0px;top:1786.7px;font-size:20px;color:#707070;">Content created by AI may not be accurate or appropriate, so review it</div><div class="t " style="left:2471.0px;top:1814.8px;font-size:20px;color:#707070;">carefully. <span style="color:#0e6f5e;text-decoration:underline;">Read terms</span></div><svg style="left:2715px;top:1872px" width="400" height="30"><path d="M4 14 H12" stroke="#616161" stroke-width="2.5"/><path d="M22 14.5 H221" stroke="#616161" stroke-width="2"/><rect x="103" y="4" width="8.5" height="21.5" fill="#616161"/><path d="M122 9 V20" stroke="#616161" stroke-width="1.5"/><path d="M232 14 H248 M240 6 V22" stroke="#616161" stroke-width="2.8"/><rect x="362" y="5.5" width="26" height="19" rx="3" fill="none" stroke="#616161" stroke-width="2.2"/><path d="M367 11 V9 H370 M380 9 H383 V11 M383 19 V21 H380 M370 21 H367 V19" fill="none" stroke="#616161" stroke-width="2"/></svg><div class="t " style="left:2990.0px;top:1874.2px;font-size:24px;color:#616161;">87%</div>
</body></html>
